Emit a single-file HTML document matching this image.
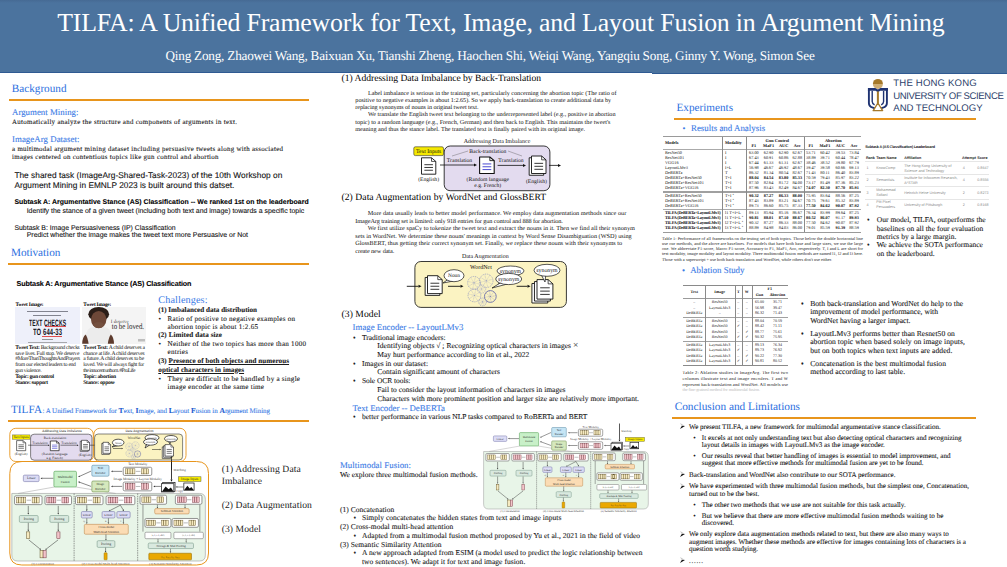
<!DOCTYPE html><html><head><meta charset="utf-8"><title>TILFA poster</title><style>
*{margin:0;padding:0;box-sizing:border-box}
html,body{width:1007px;height:567px;overflow:hidden;background:#fff}
body{position:relative;font-family:"Liberation Serif",serif;text-rendering:geometricPrecision}
.u{position:absolute;white-space:nowrap;line-height:1}
.t{position:absolute;white-space:nowrap;line-height:1;}
.k{-webkit-text-stroke:0.1px currentColor}
.r{position:absolute;}
u{text-decoration-thickness:0.6px;text-underline-offset:1px}
</style></head><body>
<div class="r" style="left:0.00px;top:0.00px;width:1007.00px;height:73.00px;background:linear-gradient(#466a94 0px,#4b739e 3px,#4b739e 71.5px,#2f5a92 72px,#2f5a92 73px);"></div>
<div class="r" style="left:652.00px;top:72.00px;width:355.00px;height:2.00px;background:linear-gradient(#4b739e 0px,#4b739e 1px,#2f5a92 1px);"></div>
<div class="t" style="left:57.20px;top:9.81px;font-size:25.80px;color:#fff;letter-spacing:-0.172px;">TILFA: A Unified Framework for Text, Image, and Layout Fusion in Argument Mining</div>
<div class="t" style="left:165.50px;top:49.01px;font-size:13.20px;color:#fff;letter-spacing:-0.210px;">Qing Zong, Zhaowei Wang, Baixuan Xu, Tianshi Zheng, Haochen Shi, Weiqi Wang, Yangqiu Song, Ginny Y. Wong, Simon See</div>
<div class="t" style="left:11.80px;top:84.31px;font-size:11.20px;color:#2c6fe0;letter-spacing:0.002px;">Background</div>
<div class="r" style="left:9.30px;top:99.00px;width:299.50px;height:2.00px;background:#e8951c;"></div>
<div class="t k" style="left:12.00px;top:108.42px;font-size:8.80px;color:#3b7be6;letter-spacing:0.029px;">Argument Mining:</div>
<div class="t k" style="left:12.00px;top:120.22px;font-size:6.90px;color:#1a1a1a;letter-spacing:0.304px;">Automatically analyze the structure and components of arguments in text.</div>
<div class="t k" style="left:12.00px;top:135.01px;font-size:8.80px;color:#3b7be6;letter-spacing:0.060px;">ImageArg Dataset:</div>
<div class="t k" style="left:12.00px;top:146.81px;font-size:6.90px;color:#1a1a1a;letter-spacing:0.303px;">a multimodal argument mining dataset including persuasive tweets along with associated</div>
<div class="t k" style="left:12.00px;top:154.91px;font-size:6.90px;color:#1a1a1a;letter-spacing:0.302px;">images centered on contentious topics like gun control and abortion</div>
<div class="t k" style="left:14.40px;top:171.00px;font-size:8.30px;font-family:'Liberation Sans',sans-serif;color:#111;letter-spacing:0.022px;">The shared task (ImageArg-Shared-Task-2023) of the 10th Workshop on</div>
<div class="t k" style="left:14.40px;top:181.22px;font-size:8.30px;font-family:'Liberation Sans',sans-serif;color:#111;letter-spacing:0.011px;">Argument Mining in EMNLP 2023 is built around this datset.</div>
<div class="t k" style="left:14.40px;top:200.20px;font-size:6.90px;font-family:'Liberation Sans',sans-serif;color:#000;font-weight:bold;letter-spacing:0.027px;">Subtask A: Argumentative Stance (AS) Classification -- We ranked 1st on the leaderboard</div>
<div class="t k" style="left:26.70px;top:208.70px;font-size:6.90px;font-family:'Liberation Sans',sans-serif;color:#111;letter-spacing:0.023px;">Identify the stance of a given tweet (including both text and image) towards a specific topic</div>
<div class="t k" style="left:14.40px;top:225.61px;font-size:6.90px;font-family:'Liberation Sans',sans-serif;color:#111;letter-spacing:0.015px;">Subtask B: Image Persuasiveness (IP) Classification</div>
<div class="t k" style="left:26.70px;top:233.20px;font-size:6.90px;font-family:'Liberation Sans',sans-serif;color:#111;letter-spacing:0.027px;">Predict whether the image makes the tweet text more Persuasive or Not</div>
<div class="t" style="left:11.00px;top:248.31px;font-size:11.20px;color:#2c6fe0;letter-spacing:-0.048px;">Motivation</div>
<div class="r" style="left:8.10px;top:263.00px;width:300.50px;height:2.00px;background:#e8951c;"></div>
<div class="t k" style="left:16.50px;top:279.51px;font-size:7.20px;font-family:'Liberation Sans',sans-serif;color:#000;font-weight:bold;letter-spacing:-0.108px;">Subtask A: Argumentative Stance (AS) Classification</div>
<div class="t" style="left:15.40px;top:302.60px;font-size:5.20px;color:#000;font-weight:bold;letter-spacing:-0.174px;">Tweet Image:</div>
<div class="t" style="left:83.30px;top:302.60px;font-size:5.20px;color:#000;font-weight:bold;letter-spacing:-0.192px;">Tweet Image:</div>
<div class="t" style="left:15.20px;top:345.60px;font-size:5.60px;color:#111;letter-spacing:-0.302px;"><b>Tweet Text:</b> Background checks</div>
<div class="t" style="left:15.20px;top:351.51px;font-size:5.60px;color:#111;letter-spacing:-0.273px;">save lives. Full stop. We deserve</div>
<div class="t" style="left:15.20px;top:357.41px;font-size:5.60px;color:#111;letter-spacing:-0.345px;">#MoreThanThoughtsAndPrayers</div>
<div class="t" style="left:15.20px;top:363.30px;font-size:5.60px;color:#111;letter-spacing:-0.291px;">from our elected leaders to end</div>
<div class="t" style="left:15.20px;top:369.21px;font-size:5.60px;color:#111;letter-spacing:-0.303px;">gun violence.</div>
<div class="t" style="left:15.20px;top:375.10px;font-size:5.60px;color:#111;letter-spacing:-0.289px;"><b>Topic: gun control</b></div>
<div class="t" style="left:15.20px;top:381.01px;font-size:5.60px;color:#111;letter-spacing:-0.347px;"><b>Stance: support</b></div>
<div class="t" style="left:83.30px;top:345.60px;font-size:5.60px;color:#111;letter-spacing:-0.277px;"><b>Tweet Text:</b> A child deserves a</div>
<div class="t" style="left:83.30px;top:351.51px;font-size:5.60px;color:#111;letter-spacing:-0.257px;">chance at life. A child deserves</div>
<div class="t" style="left:83.30px;top:357.41px;font-size:5.60px;color:#111;letter-spacing:-0.268px;">a future. A child deserves to be</div>
<div class="t" style="left:83.30px;top:363.30px;font-size:5.60px;color:#111;letter-spacing:-0.285px;">loved. We will always fight for</div>
<div class="t" style="left:83.30px;top:369.21px;font-size:5.60px;color:#111;letter-spacing:-0.547px;">the innocent unborn. #ProLife</div>
<div class="t" style="left:83.30px;top:375.10px;font-size:5.60px;color:#111;letter-spacing:-0.303px;"><b>Topic: abortion</b></div>
<div class="t" style="left:83.30px;top:381.01px;font-size:5.60px;color:#111;letter-spacing:-0.315px;"><b>Stance: oppose</b></div>
<div class="t" style="left:158.30px;top:295.81px;font-size:10.20px;color:#3b7be6;letter-spacing:0.110px;">Challenges:</div>
<div class="t k" style="left:158.30px;top:306.92px;font-size:7.10px;color:#1a1a1a;font-weight:bold;letter-spacing:-0.001px;">(1) Imbalanced data distribution</div>
<div class="t k" style="left:158.60px;top:315.51px;font-size:7.10px;color:#1a1a1a;">•</div>
<div class="t k" style="left:167.60px;top:315.51px;font-size:7.10px;color:#1a1a1a;letter-spacing:0.240px;">Ratio of positive to negative examples on</div>
<div class="t k" style="left:167.60px;top:323.92px;font-size:7.10px;color:#1a1a1a;letter-spacing:0.243px;">abortion topic is about 1:2.65</div>
<div class="t k" style="left:158.30px;top:332.20px;font-size:7.10px;color:#1a1a1a;font-weight:bold;letter-spacing:0.082px;">(2) Limited data size</div>
<div class="t k" style="left:158.60px;top:341.11px;font-size:7.10px;color:#1a1a1a;">•</div>
<div class="t k" style="left:167.60px;top:341.11px;font-size:7.10px;color:#1a1a1a;letter-spacing:0.241px;">Neither of the two topics has more than 1000</div>
<div class="t k" style="left:167.60px;top:349.42px;font-size:7.10px;color:#1a1a1a;letter-spacing:0.248px;">entries</div>
<div class="t k" style="left:158.30px;top:358.11px;font-size:7.10px;color:#1a1a1a;font-weight:bold;letter-spacing:0.062px;">(3) <u>Presence of both objects and numerous</u></div>
<div class="t k" style="left:158.30px;top:366.51px;font-size:7.10px;color:#1a1a1a;font-weight:bold;letter-spacing:0.044px;"><u>optical characters in images</u></div>
<div class="t k" style="left:158.60px;top:375.70px;font-size:7.10px;color:#1a1a1a;">•</div>
<div class="t k" style="left:167.60px;top:375.70px;font-size:7.10px;color:#1a1a1a;letter-spacing:0.242px;">They are difficult to be handled by a single</div>
<div class="t k" style="left:167.60px;top:383.51px;font-size:7.10px;color:#1a1a1a;letter-spacing:0.234px;">image encoder at the same time</div>
<div class="t" style="left:11.00px;top:404.91px;font-size:11.20px;color:#2c6fe0;letter-spacing:0.031px;">TILFA</div>
<div class="t k" style="left:42.50px;top:406.91px;font-size:7.00px;color:#3b7be6;letter-spacing:-0.028px;">: A Unified Framework for <b style="font-size:7.6px;color:#1d5bd0">T</b>ext, <b style="font-size:7.6px;color:#1d5bd0">I</b>mage, and <b style="font-size:7.6px;color:#1d5bd0">L</b>ayout <b style="font-size:7.6px;color:#1d5bd0">F</b>usion in <b style="font-size:7.6px;color:#1d5bd0">A</b>rgument Mining</div>
<div class="r" style="left:8.10px;top:420.00px;width:300.50px;height:2.00px;background:#e8951c;"></div>
<div class="t" style="left:221.70px;top:465.20px;font-size:9.60px;color:#1a1a1a;letter-spacing:0.102px;">(1) Addressing Data</div>
<div class="t" style="left:221.70px;top:476.81px;font-size:9.60px;color:#1a1a1a;letter-spacing:0.044px;">Imbalance</div>
<div class="t" style="left:221.70px;top:500.51px;font-size:9.60px;color:#1a1a1a;letter-spacing:0.087px;">(2) Data Augmentation</div>
<div class="t" style="left:221.70px;top:524.70px;font-size:9.60px;color:#1a1a1a;letter-spacing:0.084px;">(3) Model</div>
<div class="t" style="left:341.50px;top:74.20px;font-size:9.60px;color:#000;letter-spacing:-0.014px;">(1) Addressing Data Imbalance by Back-Translation</div>
<div class="t" style="left:368.00px;top:90.51px;font-size:6.20px;color:#111;letter-spacing:-0.006px;">Label imbalance is serious in the training set, particularly concerning the abortion topic (The ratio of</div>
<div class="t" style="left:355.30px;top:97.82px;font-size:6.20px;color:#111;letter-spacing:-0.014px;">positive to negative examples is about 1:2.65). So we apply back-translation to create additional data by</div>
<div class="t" style="left:355.30px;top:105.15px;font-size:6.20px;color:#111;letter-spacing:-0.078px;">replacing synonyms of nouns in original tweet text.</div>
<div class="t" style="left:368.00px;top:112.46px;font-size:6.20px;color:#111;letter-spacing:-0.016px;">We translate the English tweet text belonging to the underrepresented label (e.g., positive in abortion</div>
<div class="t" style="left:355.30px;top:119.79px;font-size:6.20px;color:#111;letter-spacing:-0.020px;">topic) to a random language (e.g., French, German) and then back to English. This maintains the tweet&#x27;s</div>
<div class="t" style="left:355.30px;top:127.10px;font-size:6.20px;color:#111;letter-spacing:-0.021px;">meaning and thus the stance label. The translated text is finally paired with its original image.</div>
<div class="t" style="left:341.50px;top:192.51px;font-size:9.60px;color:#000;letter-spacing:0.059px;">(2) Data Augmentation by WordNet and GlossBERT</div>
<div class="t" style="left:367.80px;top:211.11px;font-size:6.25px;color:#111;letter-spacing:0.003px;">More data usually leads to better model performance. We employ data augmentation methods since our</div>
<div class="t" style="left:355.30px;top:218.61px;font-size:6.25px;color:#111;letter-spacing:-0.104px;">ImageArg training set is limited: only 918 entries for gun control and 888 for abortion.</div>
<div class="t" style="left:367.80px;top:226.11px;font-size:6.25px;color:#111;letter-spacing:0.006px;">We first utilize spaCy to tokenize the tweet text and extract the nouns in it. Then we find all their synonym</div>
<div class="t" style="left:355.30px;top:233.61px;font-size:6.25px;color:#111;letter-spacing:-0.006px;">sets in WordNet. We determine these nouns&#x27; meanings in context by Word Sense Disambiguation (WSD) using</div>
<div class="t" style="left:355.30px;top:241.11px;font-size:6.25px;color:#111;letter-spacing:-0.002px;">GlossBERT, thus getting their correct synonym set. Finally, we replace these nouns with their synonyms to</div>
<div class="t" style="left:355.30px;top:248.61px;font-size:6.25px;color:#111;letter-spacing:-0.101px;">create new data.</div>
<div class="t" style="left:341.50px;top:309.61px;font-size:9.60px;color:#000;letter-spacing:0.070px;">(3) Model</div>
<div class="t k" style="left:352.60px;top:323.20px;font-size:8.80px;color:#3b7be6;letter-spacing:0.006px;">Image Encoder -- LayoutLMv3</div>
<div class="t k" style="left:353.00px;top:333.50px;font-size:7.50px;color:#1a1a1a;">•</div>
<div class="t k" style="left:362.00px;top:333.50px;font-size:7.50px;color:#1a1a1a;letter-spacing:-0.015px;">Traditional image encoders:</div>
<div class="t k" style="left:377.30px;top:342.11px;font-size:7.50px;color:#1a1a1a;letter-spacing:0.034px;">Identifying objects √ ; Recognizing optical characters in images <span style="font-size:9.5px;color:#555">×</span></div>
<div class="t k" style="left:377.30px;top:350.71px;font-size:7.50px;color:#1a1a1a;letter-spacing:0.008px;">May hurt performance according to lin et al., 2022</div>
<div class="t k" style="left:353.00px;top:359.61px;font-size:7.50px;color:#1a1a1a;">•</div>
<div class="t k" style="left:362.00px;top:359.61px;font-size:7.50px;color:#1a1a1a;letter-spacing:-0.001px;">Images in our dataset:</div>
<div class="t k" style="left:377.30px;top:368.30px;font-size:7.50px;color:#1a1a1a;letter-spacing:0.017px;">Contain significant amount of characters</div>
<div class="t k" style="left:353.00px;top:377.00px;font-size:7.50px;color:#1a1a1a;">•</div>
<div class="t k" style="left:362.00px;top:377.00px;font-size:7.50px;color:#1a1a1a;letter-spacing:-0.056px;">Sole OCR tools:</div>
<div class="t k" style="left:377.30px;top:385.80px;font-size:7.50px;color:#1a1a1a;letter-spacing:0.022px;">Fail to consider the layout information of characters in images</div>
<div class="t k" style="left:377.30px;top:394.50px;font-size:7.50px;color:#1a1a1a;letter-spacing:0.017px;">Characters with more prominent position and larger size are relatively more important.</div>
<div class="t k" style="left:352.60px;top:403.61px;font-size:8.80px;color:#3b7be6;letter-spacing:-0.021px;">Text Encoder -- DeBERTa</div>
<div class="t k" style="left:353.00px;top:413.41px;font-size:7.50px;color:#1a1a1a;">•</div>
<div class="t k" style="left:362.00px;top:413.41px;font-size:7.50px;color:#1a1a1a;letter-spacing:-0.005px;">better performance in various NLP tasks compared to RoBERTa and BERT</div>
<div class="t k" style="left:340.00px;top:460.92px;font-size:8.80px;color:#3b7be6;letter-spacing:0.050px;">Multimodal Fusion:</div>
<div class="t k" style="left:340.00px;top:470.61px;font-size:7.50px;color:#1a1a1a;letter-spacing:0.007px;">We explore three multimodal fusion methods.</div>
<div class="t k" style="left:340.00px;top:505.61px;font-size:7.50px;color:#1a1a1a;letter-spacing:0.016px;">(1) Concatenation</div>
<div class="t k" style="left:353.60px;top:514.41px;font-size:7.50px;color:#1a1a1a;">•</div>
<div class="t k" style="left:362.00px;top:514.41px;font-size:7.50px;color:#1a1a1a;letter-spacing:0.047px;">Simply concatenates the hidden states from text and image inputs</div>
<div class="t k" style="left:340.00px;top:523.30px;font-size:7.50px;color:#1a1a1a;letter-spacing:0.054px;">(2) Cross-modal multi-head attention</div>
<div class="t k" style="left:353.60px;top:531.91px;font-size:7.50px;color:#1a1a1a;">•</div>
<div class="t k" style="left:362.00px;top:531.91px;font-size:7.50px;color:#1a1a1a;letter-spacing:0.053px;">Adapted from a multimodal fusion method proposed by Yu et al., 2021 in the field of video</div>
<div class="t k" style="left:340.00px;top:540.50px;font-size:7.50px;color:#1a1a1a;letter-spacing:0.040px;">(3) Semantic Similarity Attention</div>
<div class="t k" style="left:353.60px;top:549.00px;font-size:7.50px;color:#1a1a1a;">•</div>
<div class="t k" style="left:362.00px;top:549.00px;font-size:7.50px;color:#1a1a1a;letter-spacing:0.045px;">A new approach adapted from ESIM (a model used to predict the logic relationship between</div>
<div class="t k" style="left:362.00px;top:557.61px;font-size:7.50px;color:#1a1a1a;letter-spacing:0.041px;">two sentences). We adapt it for text and image fusion.</div>
<div class="t" style="left:676.50px;top:103.01px;font-size:11.20px;color:#2c6fe0;letter-spacing:-0.005px;">Experiments</div>
<div class="r" style="left:674.10px;top:118.40px;width:301.70px;height:2.00px;background:#e8951c;"></div>
<div class="t k" style="left:682.40px;top:124.61px;font-size:8.30px;color:#3b7be6;">•</div>
<div class="t k" style="left:691.00px;top:123.61px;font-size:8.90px;color:#3b7be6;letter-spacing:0.007px;">Results and Analysis</div>
<div class="t k" style="left:681.90px;top:265.80px;font-size:8.60px;color:#3b7be6;">•</div>
<div class="t k" style="left:690.20px;top:266.00px;font-size:8.90px;color:#3b7be6;letter-spacing:0.024px;">Ablation Study</div>
<div class="t k" style="left:867.10px;top:215.91px;font-size:7.50px;color:#1a1a1a;">•</div>
<div class="t k" style="left:876.80px;top:215.91px;font-size:7.50px;color:#1a1a1a;letter-spacing:0.024px;">Our model, TILFA, outperforms the</div>
<div class="t k" style="left:876.80px;top:224.50px;font-size:7.50px;color:#1a1a1a;letter-spacing:0.047px;">baselines on all the four evaluation</div>
<div class="t k" style="left:876.80px;top:232.91px;font-size:7.50px;color:#1a1a1a;letter-spacing:0.051px;">metrics by a large margin.</div>
<div class="t k" style="left:867.10px;top:241.21px;font-size:7.50px;color:#1a1a1a;">•</div>
<div class="t k" style="left:876.80px;top:241.21px;font-size:7.50px;color:#1a1a1a;letter-spacing:0.009px;">We achieve the SOTA performance</div>
<div class="t k" style="left:876.80px;top:249.61px;font-size:7.50px;color:#1a1a1a;letter-spacing:0.006px;">on the leaderboard.</div>
<div class="t k" style="left:801.00px;top:299.60px;font-size:7.60px;color:#1a1a1a;">•</div>
<div class="t k" style="left:810.20px;top:299.60px;font-size:7.60px;color:#1a1a1a;letter-spacing:0.035px;">Both back-translation and WordNet do help to the</div>
<div class="t k" style="left:810.20px;top:308.01px;font-size:7.60px;color:#1a1a1a;letter-spacing:0.017px;">improvement of model performance, with</div>
<div class="t k" style="left:810.20px;top:316.71px;font-size:7.60px;color:#1a1a1a;letter-spacing:0.030px;">WordNet having a larger impact.</div>
<div class="t k" style="left:801.00px;top:329.51px;font-size:7.60px;color:#1a1a1a;">•</div>
<div class="t k" style="left:810.20px;top:329.51px;font-size:7.60px;color:#1a1a1a;letter-spacing:0.023px;">LayoutLMv3 performs better than Resnet50 on</div>
<div class="t k" style="left:810.20px;top:337.80px;font-size:7.60px;color:#1a1a1a;letter-spacing:0.049px;">abortion topic when based solely on image inputs,</div>
<div class="t k" style="left:810.20px;top:346.60px;font-size:7.60px;color:#1a1a1a;letter-spacing:0.051px;">but on both topics when text inputs are added.</div>
<div class="t k" style="left:801.00px;top:359.51px;font-size:7.60px;color:#1a1a1a;">•</div>
<div class="t k" style="left:810.20px;top:359.51px;font-size:7.60px;color:#1a1a1a;letter-spacing:0.045px;">Concatenation is the best multimodal fusion</div>
<div class="t k" style="left:810.20px;top:368.01px;font-size:7.60px;color:#1a1a1a;letter-spacing:0.050px;">method according to last table.</div>
<div class="t" style="left:674.70px;top:402.20px;font-size:11.30px;color:#2c6fe0;letter-spacing:-0.008px;">Conclusion and Limitations</div>
<div class="r" style="left:672.00px;top:417.00px;width:303.80px;height:2.00px;background:#e8951c;"></div>
<svg width="5" height="6" viewBox="0 0 10 12" style="position:absolute;left:680.1px;top:423.2px"><path d="M0 0 L10 6 L3.5 6 Z" fill="#c4c4c4"/><path d="M3.5 6 L10 6 L0 12 Z" fill="#111"/></svg>
<div class="t k" style="left:689.10px;top:423.50px;font-size:7.05px;color:#1a1a1a;letter-spacing:0.003px;">We present TILFA, a new framework for multimodal argumentative stance classification.</div>
<div class="t k" style="left:693.20px;top:434.81px;font-size:7.05px;color:#1a1a1a;">•</div>
<div class="t k" style="left:701.80px;top:434.81px;font-size:7.05px;color:#1a1a1a;letter-spacing:0.005px;">It excels at not only understanding text but also detecting optical characters and recognizing</div>
<div class="t k" style="left:701.80px;top:441.81px;font-size:7.05px;color:#1a1a1a;letter-spacing:0.002px;">layout details in images with LayoutLMv3 as the image encoder.</div>
<div class="t k" style="left:693.20px;top:453.40px;font-size:7.05px;color:#1a1a1a;">•</div>
<div class="t k" style="left:701.80px;top:453.40px;font-size:7.05px;color:#1a1a1a;letter-spacing:0.007px;">Our results reveal that better handling of images is essential to model improvement, and</div>
<div class="t k" style="left:701.80px;top:460.40px;font-size:7.05px;color:#1a1a1a;letter-spacing:0.003px;">suggest that more effective methods for multimodal fusion are yet to be found.</div>
<svg width="5" height="6" viewBox="0 0 10 12" style="position:absolute;left:680.1px;top:471.4px"><path d="M0 0 L10 6 L3.5 6 Z" fill="#c4c4c4"/><path d="M3.5 6 L10 6 L0 12 Z" fill="#111"/></svg>
<div class="t k" style="left:689.10px;top:471.70px;font-size:7.05px;color:#1a1a1a;letter-spacing:0.005px;">Back-translation and WordNet also contribute to our SOTA performance.</div>
<svg width="5" height="6" viewBox="0 0 10 12" style="position:absolute;left:680.1px;top:483.1px"><path d="M0 0 L10 6 L3.5 6 Z" fill="#c4c4c4"/><path d="M3.5 6 L10 6 L0 12 Z" fill="#111"/></svg>
<div class="t k" style="left:689.10px;top:483.40px;font-size:7.05px;color:#1a1a1a;letter-spacing:0.000px;">We have experimented with three multimodal fusion methods, but the simplest one, Concatenation,</div>
<div class="t k" style="left:689.10px;top:490.50px;font-size:7.05px;color:#1a1a1a;letter-spacing:0.017px;">turned out to be the best.</div>
<div class="t k" style="left:693.20px;top:501.81px;font-size:7.05px;color:#1a1a1a;">•</div>
<div class="t k" style="left:701.80px;top:501.81px;font-size:7.05px;color:#1a1a1a;letter-spacing:0.000px;">The other two methods that we use are not suitable for this task actually.</div>
<div class="t k" style="left:693.20px;top:513.11px;font-size:7.05px;color:#1a1a1a;">•</div>
<div class="t k" style="left:701.80px;top:513.11px;font-size:7.05px;color:#1a1a1a;letter-spacing:0.004px;">But we believe that there are more effective multimodal fusion methods waiting to be</div>
<div class="t k" style="left:701.80px;top:520.00px;font-size:7.05px;color:#1a1a1a;letter-spacing:-0.009px;">discovered.</div>
<svg width="5" height="6" viewBox="0 0 10 12" style="position:absolute;left:680.1px;top:531.0px"><path d="M0 0 L10 6 L3.5 6 Z" fill="#c4c4c4"/><path d="M3.5 6 L10 6 L0 12 Z" fill="#111"/></svg>
<div class="t k" style="left:689.10px;top:531.31px;font-size:7.05px;color:#1a1a1a;letter-spacing:0.008px;">We only explore data augmentation methods related to text, but there are also many ways to</div>
<div class="t k" style="left:689.10px;top:538.70px;font-size:7.05px;color:#1a1a1a;letter-spacing:0.003px;">augment images. Whether these methods are effective for images containing lots of characters is a</div>
<div class="t k" style="left:689.10px;top:545.61px;font-size:7.05px;color:#1a1a1a;letter-spacing:-0.042px;">question worth studying.</div>
<svg width="5" height="6" viewBox="0 0 10 12" style="position:absolute;left:680.1px;top:557.2px"><path d="M0 0 L10 6 L3.5 6 Z" fill="#c4c4c4"/><path d="M3.5 6 L10 6 L0 12 Z" fill="#111"/></svg>
<div class="t k" style="left:689.10px;top:557.50px;font-size:7.05px;color:#1a1a1a;letter-spacing:0.667px;">......</div>
<svg style="position:absolute;left:0;top:0" width="1007" height="567" viewBox="0 0 1007 567"><text x="497.00" y="143.10" font-size="6.00" text-anchor="middle" fill="#111" style="font-family:'Liberation Serif',serif" >Addressing Data Imbalance</text><rect x="444.2" y="146" width="105.7" height="44.7" rx="6" fill="#e3dbef" stroke="#222" stroke-width="0.9"/><rect x="413.8" y="146.8" width="29.7" height="8.8" rx="1.5" fill="#f5e800" stroke="#333" stroke-width="0.6"/><text x="428.60" y="153.40" font-size="5.60" text-anchor="middle" fill="#111" style="font-family:'Liberation Serif',serif" >Text Inputs</text><path d="M421.50 157.80 h10.01 l4.29 3.61 v12.79 h-14.30 z" fill="#fff" stroke="#111" stroke-width="0.90" stroke-linejoin="round"/><path d="M431.51 157.80 v3.61 h4.29" fill="none" stroke="#111" stroke-width="0.72"/><line x1="424.36" y1="164.69" x2="432.94" y2="164.69" stroke="#222" stroke-width="0.90"/><line x1="424.36" y1="167.48" x2="432.94" y2="167.48" stroke="#222" stroke-width="0.90"/><line x1="424.36" y1="170.26" x2="432.94" y2="170.26" stroke="#222" stroke-width="0.90"/><text x="428.60" y="180.60" font-size="5.60" text-anchor="middle" fill="#111" style="font-family:'Liberation Serif',serif" >(English)</text><line x1="440.00" y1="165.00" x2="474.00" y2="165.00" stroke="#111" stroke-width="0.80"/><path d="M477.00 165.00 L474.00 166.50 L474.00 163.50 z" fill="#111"/><text x="459.50" y="162.00" font-size="5.60" text-anchor="middle" fill="#111" style="font-family:'Liberation Serif',serif" >Translation</text><text x="487.80" y="152.70" font-size="5.60" text-anchor="middle" fill="#111" style="font-family:'Liberation Serif',serif" >Back-translation</text><line x1="452" y1="156" x2="468" y2="151" stroke="#555" stroke-width="0.4"/><line x1="508" y1="151" x2="522" y2="156" stroke="#555" stroke-width="0.4"/><path d="M479.60 157.00 h10.22 l4.38 3.63 v12.87 h-14.60 z" fill="#fff" stroke="#111" stroke-width="1.10" stroke-linejoin="round"/><path d="M489.82 157.00 v3.63 h4.38" fill="none" stroke="#111" stroke-width="0.88"/><line x1="482.52" y1="163.93" x2="491.28" y2="163.93" stroke="#5b5bd6" stroke-width="1.10"/><line x1="482.52" y1="166.74" x2="491.28" y2="166.74" stroke="#5b5bd6" stroke-width="1.10"/><line x1="482.52" y1="169.54" x2="491.28" y2="169.54" stroke="#5b5bd6" stroke-width="1.10"/><text x="487.80" y="181.00" font-size="5.60" text-anchor="middle" fill="#111" style="font-family:'Liberation Serif',serif" >(Random language</text><text x="487.80" y="187.40" font-size="5.60" text-anchor="middle" fill="#111" style="font-family:'Liberation Serif',serif" >e.g. French)</text><line x1="497.60" y1="165.40" x2="523.00" y2="165.40" stroke="#111" stroke-width="0.80"/><path d="M526.00 165.40 L523.00 166.90 L523.00 163.90 z" fill="#111"/><text x="511.00" y="162.00" font-size="5.60" text-anchor="middle" fill="#111" style="font-family:'Liberation Serif',serif" >Translation</text><path d="M529.18 157.75 h10.15 l4.35 3.85 v13.65 h-14.50 z" fill="#fff" stroke="#111" stroke-width="0.90"/><path d="M531.50 156.00 h10.15 l4.35 3.85 v13.65 h-14.50 z" fill="#fff" stroke="#111" stroke-width="0.90" stroke-linejoin="round"/><path d="M541.65 156.00 v3.85 h4.35" fill="none" stroke="#111" stroke-width="0.72"/><line x1="534.40" y1="163.35" x2="543.10" y2="163.35" stroke="#222" stroke-width="0.90"/><line x1="534.40" y1="166.32" x2="543.10" y2="166.32" stroke="#222" stroke-width="0.90"/><line x1="534.40" y1="169.30" x2="543.10" y2="169.30" stroke="#222" stroke-width="0.90"/><text x="536.40" y="182.60" font-size="5.60" text-anchor="middle" fill="#111" style="font-family:'Liberation Serif',serif" >(English)</text><line x1="549.00" y1="165.40" x2="558.00" y2="165.40" stroke="#111" stroke-width="0.80"/><path d="M561.00 165.40 L558.00 166.90 L558.00 163.90 z" fill="#111"/><text x="485.30" y="258.40" font-size="6.00" text-anchor="middle" fill="#111" style="font-family:'Liberation Serif',serif" >Data Augmentation</text><rect x="414.9" y="261.5" width="151.5" height="45.9" rx="6" fill="#fbf3c2" stroke="#222" stroke-width="0.9"/><line x1="406.80" y1="286.30" x2="418.50" y2="286.30" stroke="#111" stroke-width="0.90"/><path d="M421.50 286.30 L418.50 287.80 L418.50 284.80 z" fill="#111"/><path d="M425.15 277.49 h10.29 l4.41 3.94 v13.96 h-14.70 z" fill="#fff" stroke="#111" stroke-width="0.90"/><path d="M427.50 275.70 h10.29 l4.41 3.94 v13.96 h-14.70 z" fill="#fff" stroke="#111" stroke-width="0.90" stroke-linejoin="round"/><path d="M437.79 275.70 v3.94 h4.41" fill="none" stroke="#111" stroke-width="0.72"/><line x1="430.44" y1="283.22" x2="439.26" y2="283.22" stroke="#222" stroke-width="0.90"/><line x1="430.44" y1="286.26" x2="439.26" y2="286.26" stroke="#222" stroke-width="0.90"/><line x1="430.44" y1="289.30" x2="439.26" y2="289.30" stroke="#222" stroke-width="0.90"/><path d="M449.00 278.70 L443.00 283.00 L453.00 281.10" fill="#fff" stroke="#111" stroke-width="0.7"/><ellipse cx="454.00" cy="275.70" rx="10.00" ry="6.00" fill="#fff" stroke="#111" stroke-width="0.7"/><text x="454.00" y="277.48" font-size="5.40" text-anchor="middle" fill="#111" style="font-family:'Liberation Serif',serif" >Noun</text><line x1="448.00" y1="286.30" x2="460.50" y2="286.30" stroke="#111" stroke-width="0.90"/><path d="M463.50 286.30 L460.50 287.80 L460.50 284.80 z" fill="#111"/><text x="481.00" y="269.30" font-size="6.00" text-anchor="middle" fill="#111" style="font-family:'Liberation Serif',serif" >WordNet</text><circle cx="474.04" cy="282.88" r="6.43" fill="none" stroke="#8088c0" stroke-width="0.60" stroke-dasharray="1.10 0.80"/><line x1="474.04" y1="282.88" x2="480.31" y2="284.28" stroke="#8088c0" stroke-width="0.35" stroke-dasharray="0.80 0.60"/><line x1="474.04" y1="282.88" x2="477.48" y2="288.31" stroke="#8088c0" stroke-width="0.35" stroke-dasharray="0.80 0.60"/><line x1="474.04" y1="282.88" x2="472.64" y2="289.15" stroke="#8088c0" stroke-width="0.35" stroke-dasharray="0.80 0.60"/><line x1="474.04" y1="282.88" x2="468.61" y2="286.32" stroke="#8088c0" stroke-width="0.35" stroke-dasharray="0.80 0.60"/><line x1="474.04" y1="282.88" x2="467.77" y2="281.48" stroke="#8088c0" stroke-width="0.35" stroke-dasharray="0.80 0.60"/><line x1="474.04" y1="282.88" x2="470.60" y2="277.45" stroke="#8088c0" stroke-width="0.35" stroke-dasharray="0.80 0.60"/><line x1="474.04" y1="282.88" x2="475.44" y2="276.61" stroke="#8088c0" stroke-width="0.35" stroke-dasharray="0.80 0.60"/><line x1="474.04" y1="282.88" x2="479.47" y2="279.44" stroke="#8088c0" stroke-width="0.35" stroke-dasharray="0.80 0.60"/><circle cx="486.25" cy="280.84" r="6.78" fill="none" stroke="#8088c0" stroke-width="0.60" stroke-dasharray="1.10 0.80"/><line x1="486.25" y1="280.84" x2="492.03" y2="284.39" stroke="#8088c0" stroke-width="0.35" stroke-dasharray="0.80 0.60"/><line x1="486.25" y1="280.84" x2="487.83" y2="287.44" stroke="#8088c0" stroke-width="0.35" stroke-dasharray="0.80 0.60"/><line x1="486.25" y1="280.84" x2="482.70" y2="286.62" stroke="#8088c0" stroke-width="0.35" stroke-dasharray="0.80 0.60"/><line x1="486.25" y1="280.84" x2="479.65" y2="282.42" stroke="#8088c0" stroke-width="0.35" stroke-dasharray="0.80 0.60"/><line x1="486.25" y1="280.84" x2="480.47" y2="277.29" stroke="#8088c0" stroke-width="0.35" stroke-dasharray="0.80 0.60"/><line x1="486.25" y1="280.84" x2="484.67" y2="274.24" stroke="#8088c0" stroke-width="0.35" stroke-dasharray="0.80 0.60"/><line x1="486.25" y1="280.84" x2="489.80" y2="275.06" stroke="#8088c0" stroke-width="0.35" stroke-dasharray="0.80 0.60"/><line x1="486.25" y1="280.84" x2="492.85" y2="279.26" stroke="#8088c0" stroke-width="0.35" stroke-dasharray="0.80 0.60"/><circle cx="474.41" cy="295.46" r="6.43" fill="none" stroke="#8088c0" stroke-width="0.60" stroke-dasharray="1.10 0.80"/><line x1="474.41" y1="295.46" x2="480.67" y2="296.92" stroke="#8088c0" stroke-width="0.35" stroke-dasharray="0.80 0.60"/><line x1="474.41" y1="295.46" x2="477.80" y2="300.92" stroke="#8088c0" stroke-width="0.35" stroke-dasharray="0.80 0.60"/><line x1="474.41" y1="295.46" x2="472.95" y2="301.72" stroke="#8088c0" stroke-width="0.35" stroke-dasharray="0.80 0.60"/><line x1="474.41" y1="295.46" x2="468.95" y2="298.85" stroke="#8088c0" stroke-width="0.35" stroke-dasharray="0.80 0.60"/><line x1="474.41" y1="295.46" x2="468.15" y2="294.00" stroke="#8088c0" stroke-width="0.35" stroke-dasharray="0.80 0.60"/><line x1="474.41" y1="295.46" x2="471.02" y2="290.00" stroke="#8088c0" stroke-width="0.35" stroke-dasharray="0.80 0.60"/><line x1="474.41" y1="295.46" x2="475.87" y2="289.20" stroke="#8088c0" stroke-width="0.35" stroke-dasharray="0.80 0.60"/><line x1="474.41" y1="295.46" x2="479.87" y2="292.07" stroke="#8088c0" stroke-width="0.35" stroke-dasharray="0.80 0.60"/><circle cx="490.32" cy="296.48" r="5.89" fill="none" stroke="#5a60a8" stroke-width="0.80" /><line x1="490.32" y1="296.48" x2="494.97" y2="300.09" stroke="#5a60a8" stroke-width="0.35" stroke-dasharray="0.80 0.60"/><line x1="490.32" y1="296.48" x2="491.06" y2="302.32" stroke="#5a60a8" stroke-width="0.35" stroke-dasharray="0.80 0.60"/><line x1="490.32" y1="296.48" x2="486.71" y2="301.13" stroke="#5a60a8" stroke-width="0.35" stroke-dasharray="0.80 0.60"/><line x1="490.32" y1="296.48" x2="484.48" y2="297.22" stroke="#5a60a8" stroke-width="0.35" stroke-dasharray="0.80 0.60"/><line x1="490.32" y1="296.48" x2="485.67" y2="292.87" stroke="#5a60a8" stroke-width="0.35" stroke-dasharray="0.80 0.60"/><line x1="490.32" y1="296.48" x2="489.58" y2="290.64" stroke="#5a60a8" stroke-width="0.35" stroke-dasharray="0.80 0.60"/><line x1="490.32" y1="296.48" x2="493.93" y2="291.83" stroke="#5a60a8" stroke-width="0.35" stroke-dasharray="0.80 0.60"/><line x1="490.32" y1="296.48" x2="496.16" y2="295.74" stroke="#5a60a8" stroke-width="0.35" stroke-dasharray="0.80 0.60"/><circle cx="482.55" cy="301.92" r="3.93" fill="none" stroke="#8088c0" stroke-width="0.60" stroke-dasharray="1.10 0.80"/><line x1="482.55" y1="301.92" x2="486.09" y2="303.63" stroke="#8088c0" stroke-width="0.35" stroke-dasharray="0.80 0.60"/><line x1="482.55" y1="301.92" x2="483.84" y2="305.63" stroke="#8088c0" stroke-width="0.35" stroke-dasharray="0.80 0.60"/><line x1="482.55" y1="301.92" x2="480.84" y2="305.46" stroke="#8088c0" stroke-width="0.35" stroke-dasharray="0.80 0.60"/><line x1="482.55" y1="301.92" x2="478.84" y2="303.21" stroke="#8088c0" stroke-width="0.35" stroke-dasharray="0.80 0.60"/><line x1="482.55" y1="301.92" x2="479.01" y2="300.21" stroke="#8088c0" stroke-width="0.35" stroke-dasharray="0.80 0.60"/><line x1="482.55" y1="301.92" x2="481.26" y2="298.21" stroke="#8088c0" stroke-width="0.35" stroke-dasharray="0.80 0.60"/><line x1="482.55" y1="301.92" x2="484.26" y2="298.38" stroke="#8088c0" stroke-width="0.35" stroke-dasharray="0.80 0.60"/><line x1="482.55" y1="301.92" x2="486.26" y2="300.63" stroke="#8088c0" stroke-width="0.35" stroke-dasharray="0.80 0.60"/><circle cx="481.44" cy="289.00" r="4.28" fill="none" stroke="#9aa0cc" stroke-width="0.60" stroke-dasharray="1.10 0.80"/><line x1="481.44" y1="289.00" x2="485.35" y2="290.75" stroke="#9aa0cc" stroke-width="0.35" stroke-dasharray="0.80 0.60"/><line x1="481.44" y1="289.00" x2="482.97" y2="293.00" stroke="#9aa0cc" stroke-width="0.35" stroke-dasharray="0.80 0.60"/><line x1="481.44" y1="289.00" x2="479.69" y2="292.91" stroke="#9aa0cc" stroke-width="0.35" stroke-dasharray="0.80 0.60"/><line x1="481.44" y1="289.00" x2="477.44" y2="290.53" stroke="#9aa0cc" stroke-width="0.35" stroke-dasharray="0.80 0.60"/><line x1="481.44" y1="289.00" x2="477.53" y2="287.25" stroke="#9aa0cc" stroke-width="0.35" stroke-dasharray="0.80 0.60"/><line x1="481.44" y1="289.00" x2="479.91" y2="285.00" stroke="#9aa0cc" stroke-width="0.35" stroke-dasharray="0.80 0.60"/><line x1="481.44" y1="289.00" x2="483.19" y2="285.09" stroke="#9aa0cc" stroke-width="0.35" stroke-dasharray="0.80 0.60"/><line x1="481.44" y1="289.00" x2="485.44" y2="287.47" stroke="#9aa0cc" stroke-width="0.35" stroke-dasharray="0.80 0.60"/><path d="M503.75 273.35 L498.00 285.00 L509.15 275.31" fill="#fff" stroke="#111" stroke-width="0.7"/><ellipse cx="510.50" cy="270.90" rx="13.50" ry="4.90" fill="#fff" stroke="#111" stroke-width="0.7"/><text x="510.50" y="272.81" font-size="5.80" text-anchor="middle" fill="#111" style="font-family:'Liberation Serif',serif" >synonym</text><path d="M502.20 281.80 L492.00 288.00 L507.40 284.04" fill="#fff" stroke="#111" stroke-width="0.7"/><ellipse cx="508.70" cy="279.00" rx="13.00" ry="5.60" fill="#fff" stroke="#111" stroke-width="0.7"/><text x="508.70" y="280.91" font-size="5.80" text-anchor="middle" fill="#111" style="font-family:'Liberation Serif',serif" >synonym</text><line x1="516.60" y1="286.30" x2="527.50" y2="286.30" stroke="#111" stroke-width="0.90"/><path d="M530.50 286.30 L527.50 287.80 L527.50 284.80 z" fill="#111"/><path d="M531.91 283.50 h11.13 l4.77 4.29 v15.21 h-15.90 z" fill="#fff" stroke="#111" stroke-width="0.90"/><path d="M534.46 281.55 h11.13 l4.77 4.29 v15.21 h-15.90 z" fill="#fff" stroke="#111" stroke-width="0.90"/><path d="M537.00 279.60 h11.13 l4.77 4.29 v15.21 h-15.90 z" fill="#fff" stroke="#111" stroke-width="0.90" stroke-linejoin="round"/><path d="M548.13 279.60 v4.29 h4.77" fill="none" stroke="#111" stroke-width="0.72"/><line x1="540.18" y1="287.79" x2="549.72" y2="287.79" stroke="#222" stroke-width="0.90"/><line x1="540.18" y1="291.11" x2="549.72" y2="291.11" stroke="#222" stroke-width="0.90"/><line x1="540.18" y1="294.42" x2="549.72" y2="294.42" stroke="#222" stroke-width="0.90"/><path d="M540.50 273.30 L545.00 282.00 L545.70 275.70" fill="#fff" stroke="#111" stroke-width="0.7"/><ellipse cx="547.00" cy="270.30" rx="13.00" ry="6.00" fill="#fff" stroke="#111" stroke-width="0.7"/><text x="547.00" y="272.21" font-size="5.80" text-anchor="middle" fill="#111" style="font-family:'Liberation Serif',serif" >synonym</text><g id="mdl"><path d="M483.6 451.5 H643.3 Q648.3 451.5 648.3 456.5 V504 Q648.3 509 643.3 509 H488.6 Q483.6 509 483.6 504 Z" fill="#e8f5e8" stroke="#9a9a9a" stroke-width="0.5"/><line x1="536.6" y1="451.5" x2="536.6" y2="509" stroke="#555" stroke-width="0.5" stroke-dasharray="1.3 0.7"/><line x1="590.7" y1="451.5" x2="590.7" y2="509" stroke="#555" stroke-width="0.5" stroke-dasharray="1.3 0.7"/><path d="M489 451.5 L520 446 M538 446 L572 451.5" stroke="#999" stroke-width="0.4" fill="none"/><rect x="493.40" y="435.90" width="13.40" height="5.50" rx="1.00" fill="#dcdcf5" stroke="#7777aa" stroke-width="0.5"/><text x="500.10" y="439.63" font-size="2.80" text-anchor="middle" fill="#1a1a1a" style="font-family:'Liberation Serif',serif" >Linear</text><line x1="519.00" y1="438.60" x2="509.50" y2="438.60" stroke="#333" stroke-width="0.50"/><path d="M508.00 438.60 L509.50 437.85 L509.50 439.35 z" fill="#333"/><rect x="519.40" y="432.60" width="19.20" height="13.40" rx="1.00" fill="#c8f0c8" stroke="#4a9a4a" stroke-width="0.5"/><text x="529.00" y="438.22" font-size="2.70" text-anchor="middle" fill="#1a1a1a" style="font-family:'Liberation Serif',serif" >Multimodal</text><text x="529.00" y="442.27" font-size="2.70" text-anchor="middle" fill="#1a1a1a" style="font-family:'Liberation Serif',serif" >Fusion</text><rect x="551.70" y="427.50" width="14.60" height="9.30" rx="1.00" fill="#c5e5f5" stroke="#5a8aa5" stroke-width="0.5"/><text x="559.00" y="431.11" font-size="2.60" text-anchor="middle" fill="#1a1a1a" style="font-family:'Liberation Serif',serif" >Text</text><text x="559.00" y="435.01" font-size="2.60" text-anchor="middle" fill="#1a1a1a" style="font-family:'Liberation Serif',serif" >Encoder</text><rect x="551.70" y="440.90" width="14.60" height="9.30" rx="1.00" fill="#d5e8bd" stroke="#6a8a4a" stroke-width="0.5"/><text x="559.00" y="444.51" font-size="2.60" text-anchor="middle" fill="#1a1a1a" style="font-family:'Liberation Serif',serif" >Image</text><text x="559.00" y="448.41" font-size="2.60" text-anchor="middle" fill="#1a1a1a" style="font-family:'Liberation Serif',serif" >Encoder</text><line x1="551.00" y1="432.50" x2="541.37" y2="436.88" stroke="#333" stroke-width="0.50"/><path d="M540.00 437.50 L541.06 436.20 L541.68 437.56 z" fill="#333"/><line x1="551.00" y1="445.50" x2="541.41" y2="442.01" stroke="#333" stroke-width="0.50"/><path d="M540.00 441.50 L541.67 441.31 L541.15 442.72 z" fill="#333"/><text x="590.80" y="427.70" font-size="2.90" text-anchor="middle" fill="#333" style="font-family:'Liberation Serif',serif" >Text Modality</text><rect x="578.40" y="429.20" width="24.30" height="7.00" rx="1.2" fill="#fff" stroke="#6a6a6a" stroke-width="0.6"/><rect x="580.10" y="430.53" width="2.07" height="4.34" fill="#f6eabf" stroke="#5a4a20" stroke-width="0.35"/><rect x="582.17" y="430.53" width="2.07" height="4.34" fill="#f6eabf" stroke="#5a4a20" stroke-width="0.35"/><rect x="584.23" y="430.53" width="2.07" height="4.34" fill="#f6eabf" stroke="#5a4a20" stroke-width="0.35"/><rect x="586.30" y="430.53" width="2.07" height="4.34" fill="#f6eabf" stroke="#5a4a20" stroke-width="0.35"/><line x1="589.09" y1="432.70" x2="592.98" y2="432.70" stroke="#666" stroke-width="0.4"/><rect x="593.95" y="430.53" width="2.07" height="4.34" fill="#f6eabf" stroke="#5a4a20" stroke-width="0.35"/><rect x="596.02" y="430.53" width="2.07" height="4.34" fill="#f6eabf" stroke="#5a4a20" stroke-width="0.35"/><rect x="598.08" y="430.53" width="2.07" height="4.34" fill="#f6eabf" stroke="#5a4a20" stroke-width="0.35"/><text x="590.80" y="440.30" font-size="2.90" text-anchor="middle" fill="#333" style="font-family:'Liberation Serif',serif" >Image Modality + Layout Modality</text><rect x="578.40" y="441.80" width="24.30" height="7.50" rx="1.2" fill="#fff" stroke="#6a6a6a" stroke-width="0.6"/><rect x="580.10" y="443.23" width="2.07" height="4.65" fill="#f3c4ca" stroke="#6a3038" stroke-width="0.35"/><rect x="582.17" y="443.23" width="2.07" height="4.65" fill="#f3c4ca" stroke="#6a3038" stroke-width="0.35"/><rect x="584.23" y="443.23" width="2.07" height="4.65" fill="#f3c4ca" stroke="#6a3038" stroke-width="0.35"/><rect x="586.30" y="443.23" width="2.07" height="4.65" fill="#f3c4ca" stroke="#6a3038" stroke-width="0.35"/><line x1="589.09" y1="445.55" x2="592.98" y2="445.55" stroke="#666" stroke-width="0.4"/><rect x="593.95" y="443.23" width="2.07" height="4.65" fill="#f3c4ca" stroke="#6a3038" stroke-width="0.35"/><rect x="596.02" y="443.23" width="2.07" height="4.65" fill="#f3c4ca" stroke="#6a3038" stroke-width="0.35"/><rect x="598.08" y="443.23" width="2.07" height="4.65" fill="#f3c4ca" stroke="#6a3038" stroke-width="0.35"/><line x1="577.50" y1="432.70" x2="569.50" y2="432.70" stroke="#333" stroke-width="0.50"/><path d="M568.00 432.70 L569.50 431.95 L569.50 433.45 z" fill="#333"/><line x1="577.50" y1="445.50" x2="569.50" y2="445.50" stroke="#333" stroke-width="0.50"/><path d="M568.00 445.50 L569.50 444.75 L569.50 446.25 z" fill="#333"/><rect x="612" y="442.2" width="10.5" height="7.6" fill="#fff" stroke="#111" stroke-width="0.6"/><rect x="611" y="443.2" width="10.5" height="7" fill="#fff" stroke="#111" stroke-width="0.6"/><path d="M611.3 450 L614.5 445.5 L617 448 L619 446.5 L621.3 450 Z" fill="#111"/><line x1="610.50" y1="445.50" x2="605.50" y2="445.50" stroke="#333" stroke-width="0.50"/><path d="M604.00 445.50 L605.50 444.75 L605.50 446.25 z" fill="#333"/><rect x="630" y="442.6" width="8.7" height="6.2" fill="#fff" stroke="#111" stroke-width="0.6"/><path d="M630.3 448.6 L633 445 L635 447.3 L636.3 446 L638.4 448.6 Z" fill="#111"/><line x1="629.50" y1="446.00" x2="624.50" y2="446.00" stroke="#333" stroke-width="0.50"/><path d="M623.00 446.00 L624.50 445.25 L624.50 446.75 z" fill="#333"/><text x="626.50" y="450.40" font-size="2.60" text-anchor="middle" fill="#333" style="font-family:'Liberation Serif',serif" >Copy</text><rect x="625.3" y="437.3" width="19.3" height="4.1" fill="#f5e800" stroke="#555" stroke-width="0.4"/><text x="635.00" y="440.30" font-size="2.80" text-anchor="middle" fill="#222" style="font-family:'Liberation Serif',serif" >Image Inputs</text><line x1="619.50" y1="423.50" x2="619.50" y2="439.70" stroke="#111" stroke-width="0.70"/><path d="M619.50 441.50 L618.60 439.70 L620.40 439.70 z" fill="#111"/><text x="621.30" y="432.00" font-size="2.70" text-anchor="start" fill="#333" style="font-family:'Liberation Serif',serif" >Matching</text><rect x="485.90" y="453.50" width="23.40" height="7.50" rx="1.2" fill="#fff" stroke="#6a6a6a" stroke-width="0.6"/><rect x="487.54" y="454.93" width="1.99" height="4.65" fill="#f6eabf" stroke="#5a4a20" stroke-width="0.35"/><rect x="489.53" y="454.93" width="1.99" height="4.65" fill="#f6eabf" stroke="#5a4a20" stroke-width="0.35"/><rect x="491.52" y="454.93" width="1.99" height="4.65" fill="#f6eabf" stroke="#5a4a20" stroke-width="0.35"/><rect x="493.50" y="454.93" width="1.99" height="4.65" fill="#f6eabf" stroke="#5a4a20" stroke-width="0.35"/><line x1="496.20" y1="457.25" x2="499.94" y2="457.25" stroke="#666" stroke-width="0.4"/><rect x="500.88" y="454.93" width="1.99" height="4.65" fill="#f6eabf" stroke="#5a4a20" stroke-width="0.35"/><rect x="502.86" y="454.93" width="1.99" height="4.65" fill="#f6eabf" stroke="#5a4a20" stroke-width="0.35"/><rect x="504.85" y="454.93" width="1.99" height="4.65" fill="#f6eabf" stroke="#5a4a20" stroke-width="0.35"/><rect x="511.80" y="453.50" width="22.60" height="7.50" rx="1.2" fill="#fff" stroke="#6a6a6a" stroke-width="0.6"/><rect x="513.38" y="454.93" width="1.92" height="4.65" fill="#f3c4ca" stroke="#6a3038" stroke-width="0.35"/><rect x="515.30" y="454.93" width="1.92" height="4.65" fill="#f3c4ca" stroke="#6a3038" stroke-width="0.35"/><rect x="517.22" y="454.93" width="1.92" height="4.65" fill="#f3c4ca" stroke="#6a3038" stroke-width="0.35"/><rect x="519.15" y="454.93" width="1.92" height="4.65" fill="#f3c4ca" stroke="#6a3038" stroke-width="0.35"/><line x1="521.74" y1="457.25" x2="525.36" y2="457.25" stroke="#666" stroke-width="0.4"/><rect x="526.26" y="454.93" width="1.92" height="4.65" fill="#f3c4ca" stroke="#6a3038" stroke-width="0.35"/><rect x="528.19" y="454.93" width="1.92" height="4.65" fill="#f3c4ca" stroke="#6a3038" stroke-width="0.35"/><rect x="530.11" y="454.93" width="1.92" height="4.65" fill="#f3c4ca" stroke="#6a3038" stroke-width="0.35"/><line x1="497.60" y1="462.00" x2="497.60" y2="468.10" stroke="#333" stroke-width="0.45"/><path d="M497.60 469.50 L496.90 468.10 L498.30 468.10 z" fill="#333"/><line x1="523.10" y1="462.00" x2="523.10" y2="468.10" stroke="#333" stroke-width="0.45"/><path d="M523.10 469.50 L522.40 468.10 L523.80 468.10 z" fill="#333"/><rect x="490.00" y="470.30" width="16.00" height="5.80" rx="1.00" fill="#d9e9df" stroke="#7a9a8a" stroke-width="0.5"/><text x="498.00" y="474.18" font-size="2.80" text-anchor="middle" fill="#1a1a1a" style="font-family:'Liberation Serif',serif" >Pooling</text><rect x="516.00" y="470.30" width="16.00" height="5.80" rx="1.00" fill="#d9e9df" stroke="#7a9a8a" stroke-width="0.5"/><text x="524.00" y="474.18" font-size="2.80" text-anchor="middle" fill="#1a1a1a" style="font-family:'Liberation Serif',serif" >Pooling</text><line x1="497.60" y1="476.50" x2="497.60" y2="482.40" stroke="#333" stroke-width="0.45"/><path d="M497.60 483.80 L496.90 482.40 L498.30 482.40 z" fill="#333"/><line x1="523.10" y1="476.50" x2="523.10" y2="482.40" stroke="#333" stroke-width="0.45"/><path d="M523.10 483.80 L522.40 482.40 L523.80 482.40 z" fill="#333"/><rect x="496.2" y="484.2" width="2.7" height="5.8" fill="#f6eabf" stroke="#5a4a20" stroke-width="0.4"/><rect x="521.9" y="484.2" width="2.7" height="5.8" fill="#f3c4ca" stroke="#6a3038" stroke-width="0.4"/><line x1="498.00" y1="491.00" x2="507.41" y2="498.62" stroke="#333" stroke-width="0.45"/><path d="M508.50 499.50 L506.97 499.16 L507.85 498.08 z" fill="#333"/><line x1="523.00" y1="491.00" x2="513.11" y2="498.64" stroke="#333" stroke-width="0.45"/><path d="M512.00 499.50 L512.68 498.09 L513.54 499.20 z" fill="#333"/><rect x="507.6" y="500" width="2.6" height="6.3" fill="#f6eabf" stroke="#5a4a20" stroke-width="0.4"/><rect x="510.2" y="500" width="2.6" height="6.3" fill="#f3c4ca" stroke="#6a3038" stroke-width="0.4"/><text x="510.00" y="512.40" font-size="2.70" text-anchor="middle" fill="#222" style="font-family:'Liberation Serif',serif" >(1) Concatenation</text><rect x="537.80" y="453.50" width="23.40" height="7.50" rx="1.2" fill="#fff" stroke="#6a6a6a" stroke-width="0.6"/><rect x="539.44" y="454.93" width="1.99" height="4.65" fill="#f6eabf" stroke="#5a4a20" stroke-width="0.35"/><rect x="541.43" y="454.93" width="1.99" height="4.65" fill="#f6eabf" stroke="#5a4a20" stroke-width="0.35"/><rect x="543.42" y="454.93" width="1.99" height="4.65" fill="#f6eabf" stroke="#5a4a20" stroke-width="0.35"/><rect x="545.40" y="454.93" width="1.99" height="4.65" fill="#f6eabf" stroke="#5a4a20" stroke-width="0.35"/><line x1="548.10" y1="457.25" x2="551.84" y2="457.25" stroke="#666" stroke-width="0.4"/><rect x="552.78" y="454.93" width="1.99" height="4.65" fill="#f6eabf" stroke="#5a4a20" stroke-width="0.35"/><rect x="554.76" y="454.93" width="1.99" height="4.65" fill="#f6eabf" stroke="#5a4a20" stroke-width="0.35"/><rect x="556.75" y="454.93" width="1.99" height="4.65" fill="#f6eabf" stroke="#5a4a20" stroke-width="0.35"/><rect x="563.80" y="453.50" width="24.50" height="7.50" rx="1.2" fill="#fff" stroke="#6a6a6a" stroke-width="0.6"/><rect x="565.51" y="454.93" width="2.08" height="4.65" fill="#f3c4ca" stroke="#6a3038" stroke-width="0.35"/><rect x="567.60" y="454.93" width="2.08" height="4.65" fill="#f3c4ca" stroke="#6a3038" stroke-width="0.35"/><rect x="569.68" y="454.93" width="2.08" height="4.65" fill="#f3c4ca" stroke="#6a3038" stroke-width="0.35"/><rect x="571.76" y="454.93" width="2.08" height="4.65" fill="#f3c4ca" stroke="#6a3038" stroke-width="0.35"/><line x1="574.58" y1="457.25" x2="578.50" y2="457.25" stroke="#666" stroke-width="0.4"/><rect x="579.48" y="454.93" width="2.08" height="4.65" fill="#f3c4ca" stroke="#6a3038" stroke-width="0.35"/><rect x="581.56" y="454.93" width="2.08" height="4.65" fill="#f3c4ca" stroke="#6a3038" stroke-width="0.35"/><rect x="583.64" y="454.93" width="2.08" height="4.65" fill="#f3c4ca" stroke="#6a3038" stroke-width="0.35"/><line x1="547.40" y1="461.50" x2="547.40" y2="465.20" stroke="#333" stroke-width="0.45"/><path d="M547.40 466.60 L546.70 465.20 L548.10 465.20 z" fill="#333"/><line x1="576.00" y1="461.50" x2="567.25" y2="465.96" stroke="#333" stroke-width="0.45"/><path d="M566.00 466.60 L566.93 465.34 L567.57 466.59 z" fill="#333"/><line x1="576.00" y1="461.50" x2="578.29" y2="465.39" stroke="#333" stroke-width="0.45"/><path d="M579.00 466.60 L577.69 465.75 L578.89 465.04 z" fill="#333"/><rect x="542.80" y="466.90" width="9.20" height="5.50" rx="1.00" fill="#dcdcf5" stroke="#7777aa" stroke-width="0.5"/><text x="547.40" y="470.59" font-size="2.70" text-anchor="middle" fill="#1a1a1a" style="font-family:'Liberation Serif',serif" >Linear</text><rect x="560.40" y="466.90" width="10.90" height="5.50" rx="1.00" fill="#dcdcf5" stroke="#7777aa" stroke-width="0.5"/><text x="565.85" y="470.59" font-size="2.70" text-anchor="middle" fill="#1a1a1a" style="font-family:'Liberation Serif',serif" >Linear</text><rect x="573.00" y="466.90" width="11.30" height="5.50" rx="1.00" fill="#dcdcf5" stroke="#7777aa" stroke-width="0.5"/><text x="578.65" y="470.59" font-size="2.70" text-anchor="middle" fill="#1a1a1a" style="font-family:'Liberation Serif',serif" >Linear</text><line x1="547.40" y1="472.60" x2="547.40" y2="476.30" stroke="#333" stroke-width="0.45"/><path d="M547.40 477.60 L546.75 476.30 L548.05 476.30 z" fill="#333"/><text x="545.20" y="475.60" font-size="2.00" text-anchor="middle" fill="#333" style="font-family:'Liberation Serif',serif" >Q</text><line x1="565.80" y1="472.60" x2="565.80" y2="476.30" stroke="#333" stroke-width="0.45"/><path d="M565.80 477.60 L565.15 476.30 L566.45 476.30 z" fill="#333"/><text x="563.60" y="475.60" font-size="2.00" text-anchor="middle" fill="#333" style="font-family:'Liberation Serif',serif" >K</text><line x1="578.60" y1="472.60" x2="578.60" y2="476.30" stroke="#333" stroke-width="0.45"/><path d="M578.60 477.60 L577.95 476.30 L579.25 476.30 z" fill="#333"/><text x="576.40" y="475.60" font-size="2.00" text-anchor="middle" fill="#333" style="font-family:'Liberation Serif',serif" >V</text><rect x="545.30" y="477.80" width="37.40" height="8.40" rx="1.00" fill="#fbdcb4" stroke="#c08a50" stroke-width="0.5"/><text x="564.00" y="480.96" font-size="2.60" text-anchor="middle" fill="#1a1a1a" style="font-family:'Liberation Serif',serif" >Cross-modal</text><text x="564.00" y="484.86" font-size="2.60" text-anchor="middle" fill="#1a1a1a" style="font-family:'Liberation Serif',serif" >Multi-head Attention</text><line x1="563.70" y1="486.40" x2="563.70" y2="490.20" stroke="#333" stroke-width="0.45"/><path d="M563.70 491.50 L563.05 490.20 L564.35 490.20 z" fill="#333"/><rect x="556.20" y="491.70" width="15.10" height="5.70" rx="1.00" fill="#d9e9df" stroke="#7a9a8a" stroke-width="0.5"/><text x="563.75" y="495.53" font-size="2.80" text-anchor="middle" fill="#1a1a1a" style="font-family:'Liberation Serif',serif" >Pooling</text><line x1="563.40" y1="497.60" x2="563.40" y2="500.50" stroke="#333" stroke-width="0.45"/><path d="M563.40 501.80 L562.75 500.50 L564.05 500.50 z" fill="#333"/><rect x="562.1" y="502" width="2.6" height="6" rx="0.5" fill="#eaa800" stroke="#9a7000" stroke-width="0.4"/><text x="563.50" y="512.40" font-size="2.70" text-anchor="middle" fill="#222" style="font-family:'Liberation Serif',serif" >(2) Cross-modal Multi-head Attention</text><rect x="592.70" y="453.00" width="22.60" height="7.70" rx="1.2" fill="#fff" stroke="#6a6a6a" stroke-width="0.6"/><rect x="594.28" y="454.46" width="1.92" height="4.77" fill="#f6eabf" stroke="#5a4a20" stroke-width="0.35"/><rect x="596.20" y="454.46" width="1.92" height="4.77" fill="#f6eabf" stroke="#5a4a20" stroke-width="0.35"/><rect x="598.12" y="454.46" width="1.92" height="4.77" fill="#f6eabf" stroke="#5a4a20" stroke-width="0.35"/><rect x="600.05" y="454.46" width="1.92" height="4.77" fill="#f6eabf" stroke="#5a4a20" stroke-width="0.35"/><line x1="602.64" y1="456.85" x2="606.26" y2="456.85" stroke="#666" stroke-width="0.4"/><rect x="607.16" y="454.46" width="1.92" height="4.77" fill="#f6eabf" stroke="#5a4a20" stroke-width="0.35"/><rect x="609.09" y="454.46" width="1.92" height="4.77" fill="#f6eabf" stroke="#5a4a20" stroke-width="0.35"/><rect x="611.01" y="454.46" width="1.92" height="4.77" fill="#f6eabf" stroke="#5a4a20" stroke-width="0.35"/><rect x="622.80" y="453.00" width="22.60" height="7.70" rx="1.2" fill="#fff" stroke="#6a6a6a" stroke-width="0.6"/><rect x="624.38" y="454.46" width="1.92" height="4.77" fill="#f3c4ca" stroke="#6a3038" stroke-width="0.35"/><rect x="626.30" y="454.46" width="1.92" height="4.77" fill="#f3c4ca" stroke="#6a3038" stroke-width="0.35"/><rect x="628.22" y="454.46" width="1.92" height="4.77" fill="#f3c4ca" stroke="#6a3038" stroke-width="0.35"/><rect x="630.14" y="454.46" width="1.92" height="4.77" fill="#f3c4ca" stroke="#6a3038" stroke-width="0.35"/><line x1="632.74" y1="456.85" x2="636.36" y2="456.85" stroke="#666" stroke-width="0.4"/><rect x="637.26" y="454.46" width="1.92" height="4.77" fill="#f3c4ca" stroke="#6a3038" stroke-width="0.35"/><rect x="639.19" y="454.46" width="1.92" height="4.77" fill="#f3c4ca" stroke="#6a3038" stroke-width="0.35"/><rect x="641.11" y="454.46" width="1.92" height="4.77" fill="#f3c4ca" stroke="#6a3038" stroke-width="0.35"/><line x1="595.2" y1="461" x2="595.2" y2="484" stroke="#333" stroke-width="0.4"/><line x1="643.6" y1="461" x2="643.6" y2="484" stroke="#333" stroke-width="0.4"/><line x1="607.50" y1="461.00" x2="607.50" y2="463.00" stroke="#333" stroke-width="0.40"/><path d="M607.50 464.20 L606.90 463.00 L608.10 463.00 z" fill="#333"/><line x1="631.00" y1="461.00" x2="631.00" y2="463.00" stroke="#333" stroke-width="0.40"/><path d="M631.00 464.20 L630.40 463.00 L631.60 463.00 z" fill="#333"/><rect x="605.20" y="464.40" width="29.30" height="4.50" rx="1.00" fill="#fbdcb4" stroke="#c08a50" stroke-width="0.5"/><text x="619.85" y="467.56" font-size="2.60" text-anchor="middle" fill="#1a1a1a" style="font-family:'Liberation Serif',serif" >Softmax Attention</text><rect x="596.90" y="472.80" width="22.10" height="7.50" rx="1.2" fill="#fff" stroke="#6a6a6a" stroke-width="0.6"/><rect x="598.45" y="474.23" width="1.88" height="4.65" fill="#f6eabf" stroke="#5a4a20" stroke-width="0.35"/><rect x="600.33" y="474.23" width="1.88" height="4.65" fill="#f6eabf" stroke="#5a4a20" stroke-width="0.35"/><rect x="602.20" y="474.23" width="1.88" height="4.65" fill="#f6eabf" stroke="#5a4a20" stroke-width="0.35"/><rect x="604.08" y="474.23" width="1.88" height="4.65" fill="#f6eabf" stroke="#5a4a20" stroke-width="0.35"/><line x1="606.62" y1="476.55" x2="610.16" y2="476.55" stroke="#666" stroke-width="0.4"/><rect x="611.04" y="474.23" width="1.88" height="4.65" fill="#f6eabf" stroke="#5a4a20" stroke-width="0.35"/><rect x="612.92" y="474.23" width="1.88" height="4.65" fill="#f6eabf" stroke="#5a4a20" stroke-width="0.35"/><rect x="614.80" y="474.23" width="1.88" height="4.65" fill="#f6eabf" stroke="#5a4a20" stroke-width="0.35"/><rect x="620.00" y="472.80" width="22.40" height="7.50" rx="1.2" fill="#fff" stroke="#6a6a6a" stroke-width="0.6"/><rect x="621.57" y="474.23" width="1.90" height="4.65" fill="#f6eabf" stroke="#5a4a20" stroke-width="0.35"/><rect x="623.47" y="474.23" width="1.90" height="4.65" fill="#f6eabf" stroke="#5a4a20" stroke-width="0.35"/><rect x="625.38" y="474.23" width="1.90" height="4.65" fill="#f6eabf" stroke="#5a4a20" stroke-width="0.35"/><rect x="627.28" y="474.23" width="1.90" height="4.65" fill="#f6eabf" stroke="#5a4a20" stroke-width="0.35"/><line x1="629.86" y1="476.55" x2="633.44" y2="476.55" stroke="#666" stroke-width="0.4"/><rect x="634.34" y="474.23" width="1.90" height="4.65" fill="#f6eabf" stroke="#5a4a20" stroke-width="0.35"/><rect x="636.24" y="474.23" width="1.90" height="4.65" fill="#f6eabf" stroke="#5a4a20" stroke-width="0.35"/><rect x="638.14" y="474.23" width="1.90" height="4.65" fill="#f6eabf" stroke="#5a4a20" stroke-width="0.35"/><rect x="596.90" y="484.50" width="22.10" height="5.50" rx="1.00" fill="#fff" stroke="#777" stroke-width="0.5"/><text x="607.95" y="487.95" font-size="2.00" text-anchor="middle" fill="#1a1a1a" style="font-family:'Liberation Serif',serif" >[t; t̃; t−t̃; t⊙t̃]</text><rect x="621.50" y="484.50" width="25.10" height="5.50" rx="1.00" fill="#fff" stroke="#777" stroke-width="0.5"/><text x="634.05" y="487.95" font-size="2.00" text-anchor="middle" fill="#1a1a1a" style="font-family:'Liberation Serif',serif" >[i; ĩ; i−ĩ; i⊙ĩ]</text><line x1="608.00" y1="490.20" x2="608.00" y2="492.30" stroke="#333" stroke-width="0.40"/><path d="M608.00 493.50 L607.40 492.30 L608.60 492.30 z" fill="#333"/><line x1="632.00" y1="490.20" x2="632.00" y2="492.30" stroke="#333" stroke-width="0.40"/><path d="M632.00 493.50 L631.40 492.30 L632.60 492.30 z" fill="#333"/><rect x="599.70" y="493.70" width="38.50" height="4.70" rx="1.00" fill="#d9e9df" stroke="#7a9a8a" stroke-width="0.5"/><text x="618.95" y="496.96" font-size="2.60" text-anchor="middle" fill="#1a1a1a" style="font-family:'Liberation Serif',serif" >Average &amp; Max Pooling</text><line x1="618.60" y1="498.60" x2="618.60" y2="501.00" stroke="#333" stroke-width="0.40"/><path d="M618.60 502.20 L618.00 501.00 L619.20 501.00 z" fill="#333"/><rect x="600.2" y="502.4" width="36.3" height="5.6" rx="0.6" fill="#eaa800" stroke="#9a7000" stroke-width="0.5"/><text x="618.40" y="506.20" font-size="2.40" text-anchor="middle" fill="#222" style="font-family:'Liberation Serif',serif" >Tₐᵥₑ Tₘₐₓ Iₐᵥₑ Iₘₐₓ</text><text x="618.60" y="512.40" font-size="2.70" text-anchor="middle" fill="#222" style="font-family:'Liberation Serif',serif" >(3) Semantic Similarity Attention</text></g><use href="#mdl" transform="matrix(1.175 0 0 1.175 -556.4 -37.06)"/><rect x="9.8" y="428.3" width="83.5" height="33.2" rx="6" fill="none" stroke="#e8951c" stroke-width="0.9"/><rect x="93.8" y="428.3" width="92.2" height="33.2" rx="6" fill="none" stroke="#e8951c" stroke-width="0.9"/><path d="M22 461.5 H196.5 Q208.5 461.5 208.5 473.5 V553 Q208.5 565 196.5 565 H21.8 Q9.8 565 9.8 553 V473.5 Q9.8 461.5 22 461.5 Z" fill="none" stroke="#e8951c" stroke-width="1"/><text x="62.00" y="431.80" font-size="3.60" text-anchor="middle" fill="#1a1a1a" style="font-family:'Liberation Serif',serif" >Addressing Data Imbalance</text><text x="139.50" y="431.80" font-size="3.60" text-anchor="middle" fill="#1a1a1a" style="font-family:'Liberation Serif',serif" >Data Augmentation</text><rect x="30.6" y="434.2" width="61.4" height="26" rx="3.5" fill="#e3dbef" stroke="#333" stroke-width="0.6"/><rect x="12.2" y="434.9" width="17.8" height="4.4" fill="#f5e800" stroke="#555" stroke-width="0.4"/><text x="21.10" y="438.30" font-size="3.40" text-anchor="middle" fill="#222" style="font-family:'Liberation Serif',serif" >Text Inputs</text><path d="M16.60 440.60 h6.37 l2.73 2.22 v7.88 h-9.10 z" fill="#fff" stroke="#111" stroke-width="0.60" stroke-linejoin="round"/><path d="M22.97 440.60 v2.22 h2.73" fill="none" stroke="#111" stroke-width="0.48"/><line x1="18.42" y1="444.84" x2="23.88" y2="444.84" stroke="#222" stroke-width="0.60"/><line x1="18.42" y1="446.56" x2="23.88" y2="446.56" stroke="#222" stroke-width="0.60"/><line x1="18.42" y1="448.28" x2="23.88" y2="448.28" stroke="#222" stroke-width="0.60"/><text x="21.00" y="455.00" font-size="3.40" text-anchor="middle" fill="#1a1a1a" style="font-family:'Liberation Serif',serif" >(English)</text><line x1="28.00" y1="445.20" x2="48.00" y2="445.20" stroke="#111" stroke-width="0.50"/><path d="M49.50 445.20 L48.00 445.95 L48.00 444.45 z" fill="#111"/><text x="40.00" y="443.80" font-size="3.40" text-anchor="middle" fill="#1a1a1a" style="font-family:'Liberation Serif',serif" >Translation</text><text x="55.00" y="438.50" font-size="3.40" text-anchor="middle" fill="#1a1a1a" style="font-family:'Liberation Serif',serif" >Back-translation</text><path d="M50.30 441.00 h6.16 l2.64 2.13 v7.57 h-8.80 z" fill="#fff" stroke="#111" stroke-width="0.70" stroke-linejoin="round"/><path d="M56.46 441.00 v2.13 h2.64" fill="none" stroke="#111" stroke-width="0.56"/><line x1="52.06" y1="445.07" x2="57.34" y2="445.07" stroke="#5b5bd6" stroke-width="0.70"/><line x1="52.06" y1="446.72" x2="57.34" y2="446.72" stroke="#5b5bd6" stroke-width="0.70"/><line x1="52.06" y1="448.37" x2="57.34" y2="448.37" stroke="#5b5bd6" stroke-width="0.70"/><text x="54.70" y="454.70" font-size="3.40" text-anchor="middle" fill="#1a1a1a" style="font-family:'Liberation Serif',serif" >(Random language</text><text x="54.70" y="458.50" font-size="3.40" text-anchor="middle" fill="#1a1a1a" style="font-family:'Liberation Serif',serif" >e.g. French)</text><line x1="60.50" y1="445.20" x2="77.00" y2="445.20" stroke="#111" stroke-width="0.50"/><path d="M78.50 445.20 L77.00 445.95 L77.00 444.45 z" fill="#111"/><text x="69.00" y="443.80" font-size="3.40" text-anchor="middle" fill="#1a1a1a" style="font-family:'Liberation Serif',serif" >Translation</text><path d="M80.22 441.30 h5.60 l2.40 2.20 v7.80 h-8.00 z" fill="#fff" stroke="#111" stroke-width="0.60"/><path d="M81.50 440.30 h5.60 l2.40 2.20 v7.80 h-8.00 z" fill="#fff" stroke="#111" stroke-width="0.60" stroke-linejoin="round"/><path d="M87.10 440.30 v2.20 h2.40" fill="none" stroke="#111" stroke-width="0.48"/><line x1="83.10" y1="444.50" x2="87.90" y2="444.50" stroke="#222" stroke-width="0.60"/><line x1="83.10" y1="446.20" x2="87.90" y2="446.20" stroke="#222" stroke-width="0.60"/><line x1="83.10" y1="447.90" x2="87.90" y2="447.90" stroke="#222" stroke-width="0.60"/><text x="85.00" y="456.00" font-size="3.40" text-anchor="middle" fill="#1a1a1a" style="font-family:'Liberation Serif',serif" >(English)</text><line x1="90.00" y1="445.20" x2="98.50" y2="445.20" stroke="#111" stroke-width="0.50"/><path d="M100.00 445.20 L98.50 445.95 L98.50 444.45 z" fill="#111"/><rect x="94.6" y="434" width="88" height="26" rx="3.5" fill="#fbf3c2" stroke="#333" stroke-width="0.6"/><path d="M101.78 443.40 h5.32 l2.28 2.42 v8.58 h-7.60 z" fill="#fff" stroke="#111" stroke-width="0.60"/><path d="M103.00 442.30 h5.32 l2.28 2.42 v8.58 h-7.60 z" fill="#fff" stroke="#111" stroke-width="0.60" stroke-linejoin="round"/><path d="M108.32 442.30 v2.42 h2.28" fill="none" stroke="#111" stroke-width="0.48"/><line x1="104.52" y1="446.92" x2="109.08" y2="446.92" stroke="#222" stroke-width="0.60"/><line x1="104.52" y1="448.79" x2="109.08" y2="448.79" stroke="#222" stroke-width="0.60"/><line x1="104.52" y1="450.66" x2="109.08" y2="450.66" stroke="#222" stroke-width="0.60"/><path d="M115.30 444.30 L112.00 447.00 L117.62 445.66" fill="#fff" stroke="#111" stroke-width="0.7"/><ellipse cx="118.20" cy="442.60" rx="5.80" ry="3.40" fill="#fff" stroke="#111" stroke-width="0.7"/><text x="118.20" y="443.52" font-size="2.80" text-anchor="middle" fill="#111" style="font-family:'Liberation Serif',serif" >Noun</text><line x1="113.00" y1="448.50" x2="121.60" y2="448.50" stroke="#111" stroke-width="0.50"/><path d="M123.00 448.50 L121.60 449.20 L121.60 447.80 z" fill="#111"/><text x="134.00" y="438.50" font-size="3.40" text-anchor="middle" fill="#1a1a1a" style="font-family:'Liberation Serif',serif" >WordNet</text><circle cx="129.18" cy="446.55" r="3.52" fill="none" stroke="#8088c0" stroke-width="0.36" stroke-dasharray="0.66 0.48"/><line x1="129.18" y1="446.55" x2="132.61" y2="447.32" stroke="#8088c0" stroke-width="0.21" stroke-dasharray="0.48 0.36"/><line x1="129.18" y1="446.55" x2="131.06" y2="449.52" stroke="#8088c0" stroke-width="0.21" stroke-dasharray="0.48 0.36"/><line x1="129.18" y1="446.55" x2="128.41" y2="449.98" stroke="#8088c0" stroke-width="0.21" stroke-dasharray="0.48 0.36"/><line x1="129.18" y1="446.55" x2="126.21" y2="448.44" stroke="#8088c0" stroke-width="0.21" stroke-dasharray="0.48 0.36"/><line x1="129.18" y1="446.55" x2="125.75" y2="445.78" stroke="#8088c0" stroke-width="0.21" stroke-dasharray="0.48 0.36"/><line x1="129.18" y1="446.55" x2="127.30" y2="443.58" stroke="#8088c0" stroke-width="0.21" stroke-dasharray="0.48 0.36"/><line x1="129.18" y1="446.55" x2="129.95" y2="443.12" stroke="#8088c0" stroke-width="0.21" stroke-dasharray="0.48 0.36"/><line x1="129.18" y1="446.55" x2="132.15" y2="444.67" stroke="#8088c0" stroke-width="0.21" stroke-dasharray="0.48 0.36"/><circle cx="135.45" cy="445.44" r="3.71" fill="none" stroke="#8088c0" stroke-width="0.36" stroke-dasharray="0.66 0.48"/><line x1="135.45" y1="445.44" x2="138.61" y2="447.38" stroke="#8088c0" stroke-width="0.21" stroke-dasharray="0.48 0.36"/><line x1="135.45" y1="445.44" x2="136.32" y2="449.04" stroke="#8088c0" stroke-width="0.21" stroke-dasharray="0.48 0.36"/><line x1="135.45" y1="445.44" x2="133.51" y2="448.60" stroke="#8088c0" stroke-width="0.21" stroke-dasharray="0.48 0.36"/><line x1="135.45" y1="445.44" x2="131.84" y2="446.30" stroke="#8088c0" stroke-width="0.21" stroke-dasharray="0.48 0.36"/><line x1="135.45" y1="445.44" x2="132.29" y2="443.50" stroke="#8088c0" stroke-width="0.21" stroke-dasharray="0.48 0.36"/><line x1="135.45" y1="445.44" x2="134.58" y2="441.83" stroke="#8088c0" stroke-width="0.21" stroke-dasharray="0.48 0.36"/><line x1="135.45" y1="445.44" x2="137.39" y2="442.27" stroke="#8088c0" stroke-width="0.21" stroke-dasharray="0.48 0.36"/><line x1="135.45" y1="445.44" x2="139.06" y2="444.57" stroke="#8088c0" stroke-width="0.21" stroke-dasharray="0.48 0.36"/><circle cx="129.37" cy="453.43" r="3.52" fill="none" stroke="#8088c0" stroke-width="0.36" stroke-dasharray="0.66 0.48"/><line x1="129.37" y1="453.43" x2="132.79" y2="454.24" stroke="#8088c0" stroke-width="0.21" stroke-dasharray="0.48 0.36"/><line x1="129.37" y1="453.43" x2="131.22" y2="456.42" stroke="#8088c0" stroke-width="0.21" stroke-dasharray="0.48 0.36"/><line x1="129.37" y1="453.43" x2="128.57" y2="456.86" stroke="#8088c0" stroke-width="0.21" stroke-dasharray="0.48 0.36"/><line x1="129.37" y1="453.43" x2="126.38" y2="455.29" stroke="#8088c0" stroke-width="0.21" stroke-dasharray="0.48 0.36"/><line x1="129.37" y1="453.43" x2="125.95" y2="452.63" stroke="#8088c0" stroke-width="0.21" stroke-dasharray="0.48 0.36"/><line x1="129.37" y1="453.43" x2="127.52" y2="450.45" stroke="#8088c0" stroke-width="0.21" stroke-dasharray="0.48 0.36"/><line x1="129.37" y1="453.43" x2="130.17" y2="450.01" stroke="#8088c0" stroke-width="0.21" stroke-dasharray="0.48 0.36"/><line x1="129.37" y1="453.43" x2="132.36" y2="451.58" stroke="#8088c0" stroke-width="0.21" stroke-dasharray="0.48 0.36"/><circle cx="137.54" cy="453.99" r="3.22" fill="none" stroke="#5a60a8" stroke-width="0.48" /><line x1="137.54" y1="453.99" x2="140.09" y2="455.97" stroke="#5a60a8" stroke-width="0.21" stroke-dasharray="0.48 0.36"/><line x1="137.54" y1="453.99" x2="137.94" y2="457.19" stroke="#5a60a8" stroke-width="0.21" stroke-dasharray="0.48 0.36"/><line x1="137.54" y1="453.99" x2="135.56" y2="456.54" stroke="#5a60a8" stroke-width="0.21" stroke-dasharray="0.48 0.36"/><line x1="137.54" y1="453.99" x2="134.34" y2="454.40" stroke="#5a60a8" stroke-width="0.21" stroke-dasharray="0.48 0.36"/><line x1="137.54" y1="453.99" x2="134.99" y2="452.02" stroke="#5a60a8" stroke-width="0.21" stroke-dasharray="0.48 0.36"/><line x1="137.54" y1="453.99" x2="137.14" y2="450.79" stroke="#5a60a8" stroke-width="0.21" stroke-dasharray="0.48 0.36"/><line x1="137.54" y1="453.99" x2="139.52" y2="451.45" stroke="#5a60a8" stroke-width="0.21" stroke-dasharray="0.48 0.36"/><line x1="137.54" y1="453.99" x2="140.74" y2="453.59" stroke="#5a60a8" stroke-width="0.21" stroke-dasharray="0.48 0.36"/><circle cx="133.55" cy="456.97" r="2.15" fill="none" stroke="#8088c0" stroke-width="0.36" stroke-dasharray="0.66 0.48"/><line x1="133.55" y1="456.97" x2="135.48" y2="457.90" stroke="#8088c0" stroke-width="0.21" stroke-dasharray="0.48 0.36"/><line x1="133.55" y1="456.97" x2="134.26" y2="459.00" stroke="#8088c0" stroke-width="0.21" stroke-dasharray="0.48 0.36"/><line x1="133.55" y1="456.97" x2="132.62" y2="458.90" stroke="#8088c0" stroke-width="0.21" stroke-dasharray="0.48 0.36"/><line x1="133.55" y1="456.97" x2="131.52" y2="457.68" stroke="#8088c0" stroke-width="0.21" stroke-dasharray="0.48 0.36"/><line x1="133.55" y1="456.97" x2="131.62" y2="456.03" stroke="#8088c0" stroke-width="0.21" stroke-dasharray="0.48 0.36"/><line x1="133.55" y1="456.97" x2="132.84" y2="454.94" stroke="#8088c0" stroke-width="0.21" stroke-dasharray="0.48 0.36"/><line x1="133.55" y1="456.97" x2="134.48" y2="455.03" stroke="#8088c0" stroke-width="0.21" stroke-dasharray="0.48 0.36"/><line x1="133.55" y1="456.97" x2="135.58" y2="456.26" stroke="#8088c0" stroke-width="0.21" stroke-dasharray="0.48 0.36"/><circle cx="132.98" cy="449.90" r="2.34" fill="none" stroke="#9aa0cc" stroke-width="0.36" stroke-dasharray="0.66 0.48"/><line x1="132.98" y1="449.90" x2="135.12" y2="450.86" stroke="#9aa0cc" stroke-width="0.21" stroke-dasharray="0.48 0.36"/><line x1="132.98" y1="449.90" x2="133.82" y2="452.09" stroke="#9aa0cc" stroke-width="0.21" stroke-dasharray="0.48 0.36"/><line x1="132.98" y1="449.90" x2="132.02" y2="452.04" stroke="#9aa0cc" stroke-width="0.21" stroke-dasharray="0.48 0.36"/><line x1="132.98" y1="449.90" x2="130.79" y2="450.74" stroke="#9aa0cc" stroke-width="0.21" stroke-dasharray="0.48 0.36"/><line x1="132.98" y1="449.90" x2="130.84" y2="448.94" stroke="#9aa0cc" stroke-width="0.21" stroke-dasharray="0.48 0.36"/><line x1="132.98" y1="449.90" x2="132.14" y2="447.71" stroke="#9aa0cc" stroke-width="0.21" stroke-dasharray="0.48 0.36"/><line x1="132.98" y1="449.90" x2="133.94" y2="447.76" stroke="#9aa0cc" stroke-width="0.21" stroke-dasharray="0.48 0.36"/><line x1="132.98" y1="449.90" x2="135.17" y2="449.06" stroke="#9aa0cc" stroke-width="0.21" stroke-dasharray="0.48 0.36"/><path d="M148.50 439.40 L146.00 446.00 L151.30 440.68" fill="#fff" stroke="#111" stroke-width="0.7"/><ellipse cx="152.00" cy="437.80" rx="7.00" ry="3.20" fill="#fff" stroke="#111" stroke-width="0.7"/><text x="152.00" y="438.66" font-size="2.60" text-anchor="middle" fill="#111" style="font-family:'Liberation Serif',serif" >synonym</text><path d="M147.00 443.60 L145.00 448.00 L149.80 444.88" fill="#fff" stroke="#111" stroke-width="0.7"/><ellipse cx="150.50" cy="442.00" rx="7.00" ry="3.20" fill="#fff" stroke="#111" stroke-width="0.7"/><text x="150.50" y="442.86" font-size="2.60" text-anchor="middle" fill="#111" style="font-family:'Liberation Serif',serif" >synonym</text><line x1="152.00" y1="449.50" x2="159.60" y2="449.50" stroke="#111" stroke-width="0.50"/><path d="M161.00 449.50 L159.60 450.20 L159.60 448.80 z" fill="#111"/><path d="M162.28 446.90 h5.95 l2.55 2.53 v8.97 h-8.50 z" fill="#fff" stroke="#111" stroke-width="0.60"/><path d="M163.64 445.75 h5.95 l2.55 2.53 v8.97 h-8.50 z" fill="#fff" stroke="#111" stroke-width="0.60"/><path d="M165.00 444.60 h5.95 l2.55 2.53 v8.97 h-8.50 z" fill="#fff" stroke="#111" stroke-width="0.60" stroke-linejoin="round"/><path d="M170.95 444.60 v2.53 h2.55" fill="none" stroke="#111" stroke-width="0.48"/><line x1="166.70" y1="449.43" x2="171.80" y2="449.43" stroke="#222" stroke-width="0.60"/><line x1="166.70" y1="451.39" x2="171.80" y2="451.39" stroke="#222" stroke-width="0.60"/><line x1="166.70" y1="453.34" x2="171.80" y2="453.34" stroke="#222" stroke-width="0.60"/><path d="M167.75 440.30 L170.00 444.00 L170.35 441.58" fill="#fff" stroke="#111" stroke-width="0.7"/><ellipse cx="171.00" cy="438.70" rx="6.50" ry="3.20" fill="#fff" stroke="#111" stroke-width="0.7"/><text x="171.00" y="439.56" font-size="2.60" text-anchor="middle" fill="#111" style="font-family:'Liberation Serif',serif" >synonym</text><line x1="171.5" y1="456.5" x2="171.5" y2="470" stroke="#111" stroke-width="0.7"/></svg>
<div class="r" style="left:663.10px;top:136.00px;width:198.00px;height:1.00px;background:#9a9a9a;"></div>
<div class="r" style="left:663.10px;top:148.70px;width:198.00px;height:0.90px;background:#aaa;"></div>
<div class="r" style="left:663.10px;top:191.40px;width:198.00px;height:1.50px;background:#a0a0a0;"></div>
<div class="r" style="left:663.10px;top:208.80px;width:198.00px;height:0.90px;background:#aaa;"></div>
<div class="r" style="left:663.10px;top:231.80px;width:198.00px;height:1.00px;background:#9a9a9a;"></div>
<div class="r" style="left:722.30px;top:136.80px;width:0.60px;height:95.00px;background:#8a8a8a;"></div>
<div class="r" style="left:745.90px;top:136.80px;width:0.90px;height:95.00px;background:#8a8a8a;"></div>
<div class="r" style="left:804.10px;top:136.80px;width:0.70px;height:95.00px;background:#8a8a8a;"></div>
<div class="t" style="left:665.00px;top:141.01px;font-size:4.30px;color:#111;font-weight:bold;">Models</div>
<div class="t" style="left:725.00px;top:141.01px;font-size:4.30px;color:#111;font-weight:bold;">Modality</div>
<div class="t" style="left:765.60px;top:138.60px;font-size:4.30px;color:#111;font-weight:bold;">Gun Control</div>
<div class="t" style="left:825.00px;top:138.60px;font-size:4.30px;color:#111;font-weight:bold;">Abortion</div>
<div class="t" style="left:751.51px;top:143.81px;font-size:4.30px;color:#111;font-weight:bold;">F1</div>
<div class="t" style="left:763.11px;top:143.81px;font-size:4.30px;color:#111;font-weight:bold;">MaF1</div>
<div class="t" style="left:778.94px;top:143.81px;font-size:4.30px;color:#111;font-weight:bold;">AUC</div>
<div class="t" style="left:793.84px;top:143.81px;font-size:4.30px;color:#111;font-weight:bold;">Acc</div>
<div class="t" style="left:808.51px;top:143.81px;font-size:4.30px;color:#111;font-weight:bold;">F1</div>
<div class="t" style="left:819.51px;top:143.81px;font-size:4.30px;color:#111;font-weight:bold;">MaF1</div>
<div class="t" style="left:835.74px;top:143.81px;font-size:4.30px;color:#111;font-weight:bold;">AUC</div>
<div class="t" style="left:850.54px;top:143.81px;font-size:4.30px;color:#111;font-weight:bold;">Acc</div>
<div class="t" style="left:665.00px;top:150.71px;font-size:4.30px;color:#111;">ResNet50</div>
<div class="t" style="left:725.00px;top:150.71px;font-size:4.30px;color:#111;">I</div>
<div class="t" style="left:749.06px;top:150.71px;font-size:4.30px;color:#111;">63.00</div>
<div class="t" style="left:763.76px;top:150.71px;font-size:4.30px;color:#111;">62.90</div>
<div class="t" style="left:778.76px;top:150.71px;font-size:4.30px;color:#111;">62.90</div>
<div class="t" style="left:792.46px;top:150.71px;font-size:4.30px;color:#111;">62.67</div>
<div class="t" style="left:806.06px;top:150.71px;font-size:4.30px;color:#111;">53.71</div>
<div class="t" style="left:820.16px;top:150.71px;font-size:4.30px;color:#111;">60.42</div>
<div class="t" style="left:835.56px;top:150.71px;font-size:4.30px;color:#111;">39.53</div>
<div class="t" style="left:849.16px;top:150.71px;font-size:4.30px;color:#111;">73.84</div>
<div class="t" style="left:665.00px;top:155.68px;font-size:4.30px;color:#111;">ResNet101</div>
<div class="t" style="left:725.00px;top:155.68px;font-size:4.30px;color:#111;">I</div>
<div class="t" style="left:749.06px;top:155.68px;font-size:4.30px;color:#111;">67.43</div>
<div class="t" style="left:763.76px;top:155.68px;font-size:4.30px;color:#111;">60.91</div>
<div class="t" style="left:778.76px;top:155.68px;font-size:4.30px;color:#111;">60.86</div>
<div class="t" style="left:792.46px;top:155.68px;font-size:4.30px;color:#111;">62.88</div>
<div class="t" style="left:806.06px;top:155.68px;font-size:4.30px;color:#111;">38.89</div>
<div class="t" style="left:820.16px;top:155.68px;font-size:4.30px;color:#111;">39.71</div>
<div class="t" style="left:835.56px;top:155.68px;font-size:4.30px;color:#111;">60.44</div>
<div class="t" style="left:849.16px;top:155.68px;font-size:4.30px;color:#111;">78.47</div>
<div class="t" style="left:665.00px;top:160.67px;font-size:4.30px;color:#111;">VGG16</div>
<div class="t" style="left:725.00px;top:160.67px;font-size:4.30px;color:#111;">I</div>
<div class="t" style="left:749.06px;top:160.67px;font-size:4.30px;color:#111;">67.44</div>
<div class="t" style="left:763.76px;top:160.67px;font-size:4.30px;color:#111;">61.33</div>
<div class="t" style="left:778.76px;top:160.67px;font-size:4.30px;color:#111;">61.31</div>
<div class="t" style="left:792.46px;top:160.67px;font-size:4.30px;color:#111;">62.67</div>
<div class="t" style="left:806.06px;top:160.67px;font-size:4.30px;color:#111;">38.46</div>
<div class="t" style="left:820.16px;top:160.67px;font-size:4.30px;color:#111;">38.52</div>
<div class="t" style="left:835.56px;top:160.67px;font-size:4.30px;color:#111;">39.80</div>
<div class="t" style="left:849.16px;top:160.67px;font-size:4.30px;color:#111;">67.79</div>
<div class="t" style="left:665.00px;top:165.65px;font-size:4.30px;color:#111;">LayoutLMv3</div>
<div class="t" style="left:725.00px;top:165.65px;font-size:4.30px;color:#111;">I+L</div>
<div class="t" style="left:749.06px;top:165.65px;font-size:4.30px;color:#111;">56.98</div>
<div class="t" style="left:763.76px;top:165.65px;font-size:4.30px;color:#111;">46.67</div>
<div class="t" style="left:778.76px;top:165.65px;font-size:4.30px;color:#111;">46.92</div>
<div class="t" style="left:792.46px;top:165.65px;font-size:4.30px;color:#111;">48.67</div>
<div class="t" style="left:806.06px;top:165.65px;font-size:4.30px;color:#111;">39.47</div>
<div class="t" style="left:820.16px;top:165.65px;font-size:4.30px;color:#111;">39.58</div>
<div class="t" style="left:835.56px;top:165.65px;font-size:4.30px;color:#111;">60.66</div>
<div class="t" style="left:849.16px;top:165.65px;font-size:4.30px;color:#111;">69.13</div>
<div class="t" style="left:665.00px;top:170.62px;font-size:4.30px;color:#111;">DeBERTa</div>
<div class="t" style="left:725.00px;top:170.62px;font-size:4.30px;color:#111;">T</div>
<div class="t" style="left:749.06px;top:170.62px;font-size:4.30px;color:#111;">86.32</div>
<div class="t" style="left:763.76px;top:170.62px;font-size:4.30px;color:#111;">81.34</div>
<div class="t" style="left:778.76px;top:170.62px;font-size:4.30px;color:#111;">80.54</div>
<div class="t" style="left:792.46px;top:170.62px;font-size:4.30px;color:#111;">82.67</div>
<div class="t" style="left:806.06px;top:170.62px;font-size:4.30px;color:#111;">71.43</div>
<div class="t" style="left:820.24px;top:170.62px;font-size:4.30px;color:#111;">80.11</div>
<div class="t" style="left:835.56px;top:170.62px;font-size:4.30px;color:#111;">86.40</div>
<div class="t" style="left:849.16px;top:170.62px;font-size:4.30px;color:#111;">83.89</div>
<div class="t" style="left:665.00px;top:175.60px;font-size:4.30px;color:#111;">DeBERTa+ResNet50</div>
<div class="t" style="left:725.00px;top:175.60px;font-size:4.30px;color:#111;">T+I</div>
<div class="t" style="left:749.06px;top:175.60px;font-size:4.30px;color:#111;font-weight:bold;">88.04</div>
<div class="t" style="left:763.76px;top:175.60px;font-size:4.30px;color:#111;font-weight:bold;">84.54</div>
<div class="t" style="left:778.76px;top:175.60px;font-size:4.30px;color:#111;font-weight:bold;">83.80</div>
<div class="t" style="left:792.46px;top:175.60px;font-size:4.30px;color:#111;font-weight:bold;">85.33</div>
<div class="t" style="left:806.06px;top:175.60px;font-size:4.30px;color:#111;">70.59</div>
<div class="t" style="left:820.16px;top:175.60px;font-size:4.30px;color:#111;">79.43</div>
<div class="t" style="left:835.56px;top:175.60px;font-size:4.30px;color:#111;">85.97</div>
<div class="t" style="left:849.16px;top:175.60px;font-size:4.30px;color:#111;">83.22</div>
<div class="t" style="left:665.00px;top:180.59px;font-size:4.30px;color:#111;">DeBERTa+ResNet101</div>
<div class="t" style="left:725.00px;top:180.59px;font-size:4.30px;color:#111;">T+I</div>
<div class="t" style="left:749.06px;top:180.59px;font-size:4.30px;color:#111;">87.50</div>
<div class="t" style="left:763.76px;top:180.59px;font-size:4.30px;color:#111;">82.64</div>
<div class="t" style="left:778.76px;top:180.59px;font-size:4.30px;color:#111;">81.72</div>
<div class="t" style="left:792.46px;top:180.59px;font-size:4.30px;color:#111;">84.00</div>
<div class="t" style="left:806.06px;top:180.59px;font-size:4.30px;color:#111;">73.17</div>
<div class="t" style="left:820.16px;top:180.59px;font-size:4.30px;color:#111;">81.49</div>
<div class="t" style="left:835.56px;top:180.59px;font-size:4.30px;color:#111;">87.36</div>
<div class="t" style="left:849.16px;top:180.59px;font-size:4.30px;color:#111;">85.23</div>
<div class="t" style="left:665.00px;top:185.57px;font-size:4.30px;color:#111;">DeBERTa+VGG16</div>
<div class="t" style="left:725.00px;top:185.57px;font-size:4.30px;color:#111;">T+I</div>
<div class="t" style="left:749.06px;top:185.57px;font-size:4.30px;color:#111;">87.96</div>
<div class="t" style="left:763.76px;top:185.57px;font-size:4.30px;color:#111;">83.43</div>
<div class="t" style="left:778.76px;top:185.57px;font-size:4.30px;color:#111;">82.49</div>
<div class="t" style="left:792.46px;top:185.57px;font-size:4.30px;color:#111;">84.67</div>
<div class="t" style="left:806.06px;top:185.57px;font-size:4.30px;color:#111;font-weight:bold;">74.07</div>
<div class="t" style="left:820.16px;top:185.57px;font-size:4.30px;color:#111;font-weight:bold;">82.30</div>
<div class="t" style="left:835.56px;top:185.57px;font-size:4.30px;color:#111;font-weight:bold;">87.70</div>
<div class="t" style="left:849.16px;top:185.57px;font-size:4.30px;color:#111;font-weight:bold;">85.91</div>
<div class="t" style="left:665.00px;top:193.90px;font-size:4.30px;color:#111;">DeBERTa+ResNet50</div>
<div class="t" style="left:725.00px;top:193.90px;font-size:4.30px;color:#111;">T+I ⁺</div>
<div class="t" style="left:749.06px;top:193.90px;font-size:4.30px;color:#111;font-weight:bold;">90.32</div>
<div class="t" style="left:763.76px;top:193.90px;font-size:4.30px;color:#111;font-weight:bold;">87.27</div>
<div class="t" style="left:778.76px;top:193.90px;font-size:4.30px;color:#111;font-weight:bold;">86.33</div>
<div class="t" style="left:792.46px;top:193.90px;font-size:4.30px;color:#111;font-weight:bold;">88.00</div>
<div class="t" style="left:806.06px;top:193.90px;font-size:4.30px;color:#111;">75.95</div>
<div class="t" style="left:820.16px;top:193.90px;font-size:4.30px;color:#111;">83.64</div>
<div class="t" style="left:835.56px;top:193.90px;font-size:4.30px;color:#111;">88.56</div>
<div class="t" style="left:849.16px;top:193.90px;font-size:4.30px;color:#111;">87.25</div>
<div class="t" style="left:665.00px;top:198.76px;font-size:4.30px;color:#111;">DeBERTa+ResNet101</div>
<div class="t" style="left:725.00px;top:198.76px;font-size:4.30px;color:#111;">T+I ⁺</div>
<div class="t" style="left:749.06px;top:198.76px;font-size:4.30px;color:#111;">87.43</div>
<div class="t" style="left:763.76px;top:198.76px;font-size:4.30px;color:#111;">83.89</div>
<div class="t" style="left:778.76px;top:198.76px;font-size:4.30px;color:#111;">83.21</div>
<div class="t" style="left:792.46px;top:198.76px;font-size:4.30px;color:#111;">84.67</div>
<div class="t" style="left:806.06px;top:198.76px;font-size:4.30px;color:#111;">70.75</div>
<div class="t" style="left:820.16px;top:198.76px;font-size:4.30px;color:#111;">79.61</div>
<div class="t" style="left:835.56px;top:198.76px;font-size:4.30px;color:#111;">85.32</div>
<div class="t" style="left:849.16px;top:198.76px;font-size:4.30px;color:#111;">83.89</div>
<div class="t" style="left:665.00px;top:203.60px;font-size:4.30px;color:#111;">DeBERTa+VGG16</div>
<div class="t" style="left:725.00px;top:203.60px;font-size:4.30px;color:#111;">T+I ⁺</div>
<div class="t" style="left:749.06px;top:203.60px;font-size:4.30px;color:#111;">89.73</div>
<div class="t" style="left:763.76px;top:203.60px;font-size:4.30px;color:#111;">86.60</div>
<div class="t" style="left:778.76px;top:203.60px;font-size:4.30px;color:#111;">85.75</div>
<div class="t" style="left:792.46px;top:203.60px;font-size:4.30px;color:#111;">87.33</div>
<div class="t" style="left:806.06px;top:203.60px;font-size:4.30px;color:#111;font-weight:bold;">77.50</div>
<div class="t" style="left:820.16px;top:203.60px;font-size:4.30px;color:#111;font-weight:bold;">84.62</div>
<div class="t" style="left:835.56px;top:203.60px;font-size:4.30px;color:#111;font-weight:bold;">90.07</div>
<div class="t" style="left:849.16px;top:203.60px;font-size:4.30px;color:#111;font-weight:bold;">87.92</div>
<div class="t" style="left:665.00px;top:210.81px;font-size:4.30px;color:#111;font-weight:bold;letter-spacing:-0.241px;">TILFA (DeBERTa+LayoutLMv3)</div>
<div class="t" style="left:725.00px;top:210.81px;font-size:4.30px;color:#111;">l1 T+I+L</div>
<div class="t" style="left:749.06px;top:210.81px;font-size:4.30px;color:#111;">89.13</div>
<div class="t" style="left:763.76px;top:210.81px;font-size:4.30px;color:#111;">85.94</div>
<div class="t" style="left:778.76px;top:210.81px;font-size:4.30px;color:#111;">85.16</div>
<div class="t" style="left:792.46px;top:210.81px;font-size:4.30px;color:#111;">86.67</div>
<div class="t" style="left:806.06px;top:210.81px;font-size:4.30px;color:#111;">76.34</div>
<div class="t" style="left:820.16px;top:210.81px;font-size:4.30px;color:#111;">83.99</div>
<div class="t" style="left:835.56px;top:210.81px;font-size:4.30px;color:#111;">89.64</div>
<div class="t" style="left:849.16px;top:210.81px;font-size:4.30px;color:#111;">87.25</div>
<div class="t" style="left:665.00px;top:215.78px;font-size:4.30px;color:#111;font-weight:bold;letter-spacing:-0.241px;">TILFA (DeBERTa+LayoutLMv3)</div>
<div class="t" style="left:725.00px;top:215.78px;font-size:4.30px;color:#111;">l1 T+I+L ⁺</div>
<div class="t" style="left:749.06px;top:215.78px;font-size:4.30px;color:#111;font-weight:bold;">90.81</div>
<div class="t" style="left:763.76px;top:215.78px;font-size:4.30px;color:#111;font-weight:bold;">88.01</div>
<div class="t" style="left:778.76px;top:215.78px;font-size:4.30px;color:#111;font-weight:bold;">87.10</div>
<div class="t" style="left:792.46px;top:215.78px;font-size:4.30px;color:#111;font-weight:bold;">88.67</div>
<div class="t" style="left:806.06px;top:215.78px;font-size:4.30px;color:#111;font-weight:bold;">80.52</div>
<div class="t" style="left:820.16px;top:215.78px;font-size:4.30px;color:#111;font-weight:bold;">86.07</div>
<div class="t" style="left:835.56px;top:215.78px;font-size:4.30px;color:#111;">91.17</div>
<div class="t" style="left:849.16px;top:215.78px;font-size:4.30px;color:#111;font-weight:bold;">89.93</div>
<div class="t" style="left:665.00px;top:220.75px;font-size:4.30px;color:#111;font-weight:bold;letter-spacing:-0.241px;">TILFA (DeBERTa+LayoutLMv3)</div>
<div class="t" style="left:725.00px;top:220.75px;font-size:4.30px;color:#111;">l2 T+I+L ⁺</div>
<div class="t" style="left:749.06px;top:220.75px;font-size:4.30px;color:#111;">90.32</div>
<div class="t" style="left:763.76px;top:220.75px;font-size:4.30px;color:#111;">87.27</div>
<div class="t" style="left:778.76px;top:220.75px;font-size:4.30px;color:#111;">86.33</div>
<div class="t" style="left:792.46px;top:220.75px;font-size:4.30px;color:#111;">88.00</div>
<div class="t" style="left:806.06px;top:220.75px;font-size:4.30px;color:#111;">77.50</div>
<div class="t" style="left:820.16px;top:220.75px;font-size:4.30px;color:#111;">84.62</div>
<div class="t" style="left:835.56px;top:220.75px;font-size:4.30px;color:#111;">90.07</div>
<div class="t" style="left:849.16px;top:220.75px;font-size:4.30px;color:#111;">87.92</div>
<div class="t" style="left:665.00px;top:225.71px;font-size:4.30px;color:#111;font-weight:bold;letter-spacing:-0.241px;">TILFA (DeBERTa+LayoutLMv3)</div>
<div class="t" style="left:725.00px;top:225.71px;font-size:4.30px;color:#111;">l3 T+I+L ⁺</div>
<div class="t" style="left:749.06px;top:225.71px;font-size:4.30px;color:#111;">88.89</div>
<div class="t" style="left:763.76px;top:225.71px;font-size:4.30px;color:#111;">84.98</div>
<div class="t" style="left:778.76px;top:225.71px;font-size:4.30px;color:#111;">84.03</div>
<div class="t" style="left:792.46px;top:225.71px;font-size:4.30px;color:#111;">86.00</div>
<div class="t" style="left:806.06px;top:225.71px;font-size:4.30px;color:#111;">79.01</div>
<div class="t" style="left:820.16px;top:225.71px;font-size:4.30px;color:#111;">85.59</div>
<div class="t" style="left:835.56px;top:225.71px;font-size:4.30px;color:#111;font-weight:bold;">91.39</div>
<div class="t" style="left:849.16px;top:225.71px;font-size:4.30px;color:#111;">88.59</div>
<div class="t" style="left:662.00px;top:236.51px;font-size:4.30px;color:#222;letter-spacing:0.076px;">Table 1: Performance of all frameworks on the testing set of both topics. Those below the double horizontal line</div>
<div class="t" style="left:662.00px;top:241.81px;font-size:4.30px;color:#222;letter-spacing:0.108px;">use our methods, and the above are baselines. For models that have both base and large sizes, we use the large</div>
<div class="t" style="left:662.00px;top:247.10px;font-size:4.30px;color:#222;letter-spacing:0.087px;">one. We abbreviate F1-score, Macro F1-score, Accuracy to F1, MaF1, Acc, respectively. T, I and L are short for</div>
<div class="t" style="left:662.00px;top:252.40px;font-size:4.30px;color:#222;letter-spacing:0.035px;">text modality, image modality and layout modality. Three multimodal fusion methods are named l1, l2 and l3 here.</div>
<div class="t" style="left:662.00px;top:257.71px;font-size:4.30px;color:#222;letter-spacing:0.052px;">Those with a superscript + use both back-translation and WordNet, while others don&#x27;t use either.</div>
<div class="t" style="left:865.20px;top:146.40px;font-size:3.70px;font-family:'Liberation Sans',sans-serif;color:#111;font-weight:bold;letter-spacing:-0.123px;">Subtask A (AS Classification) Leaderboard</div>
<div class="t" style="left:865.90px;top:157.40px;font-size:3.70px;font-family:'Liberation Sans',sans-serif;color:#222;font-weight:bold;">Rank</div>
<div class="t" style="left:876.20px;top:157.40px;font-size:3.70px;font-family:'Liberation Sans',sans-serif;color:#222;font-weight:bold;">Team Name</div>
<div class="t" style="left:904.30px;top:157.40px;font-size:3.70px;font-family:'Liberation Sans',sans-serif;color:#222;font-weight:bold;">Affiliation</div>
<div class="t" style="left:962.00px;top:157.40px;font-size:3.70px;font-family:'Liberation Sans',sans-serif;color:#222;font-weight:bold;">Attempt</div>
<div class="t" style="left:977.30px;top:157.40px;font-size:3.70px;font-family:'Liberation Sans',sans-serif;color:#222;font-weight:bold;">Score</div>
<div class="r" style="left:865.00px;top:161.30px;width:123.50px;height:0.50px;background:#e6e6e6;"></div>
<div class="r" style="left:865.00px;top:174.20px;width:123.50px;height:0.50px;background:#e6e6e6;"></div>
<div class="r" style="left:865.00px;top:186.20px;width:123.50px;height:0.50px;background:#e6e6e6;"></div>
<div class="r" style="left:865.00px;top:198.70px;width:123.50px;height:0.50px;background:#e6e6e6;"></div>
<div class="t" style="left:866.50px;top:167.01px;font-size:3.70px;font-family:'Liberation Sans',sans-serif;color:#8a8a8a;">1</div>
<div class="t" style="left:876.20px;top:167.01px;font-size:3.70px;font-family:'Liberation Sans',sans-serif;color:#8a8a8a;">KnowComp</div>
<div class="t" style="left:904.30px;top:164.51px;font-size:3.70px;font-family:'Liberation Sans',sans-serif;color:#8a8a8a;">The Hong Kong University of</div>
<div class="t" style="left:904.30px;top:169.60px;font-size:3.70px;font-family:'Liberation Sans',sans-serif;color:#8a8a8a;">Science and Technology</div>
<div class="t" style="left:962.70px;top:167.01px;font-size:3.70px;font-family:'Liberation Sans',sans-serif;color:#8a8a8a;">4</div>
<div class="t" style="left:977.30px;top:167.01px;font-size:3.70px;font-family:'Liberation Sans',sans-serif;color:#8a8a8a;">0.8647</div>
<div class="t" style="left:866.50px;top:179.01px;font-size:3.70px;font-family:'Liberation Sans',sans-serif;color:#8a8a8a;">2</div>
<div class="t" style="left:876.20px;top:179.01px;font-size:3.70px;font-family:'Liberation Sans',sans-serif;color:#8a8a8a;">Semantists</div>
<div class="t" style="left:904.30px;top:176.70px;font-size:3.70px;font-family:'Liberation Sans',sans-serif;color:#8a8a8a;">Institute for Infocomm Research,</div>
<div class="t" style="left:904.30px;top:181.60px;font-size:3.70px;font-family:'Liberation Sans',sans-serif;color:#8a8a8a;">A*STAR</div>
<div class="t" style="left:962.70px;top:179.01px;font-size:3.70px;font-family:'Liberation Sans',sans-serif;color:#8a8a8a;">4</div>
<div class="t" style="left:977.30px;top:179.01px;font-size:3.70px;font-family:'Liberation Sans',sans-serif;color:#8a8a8a;">0.8556</div>
<div class="t" style="left:866.50px;top:191.60px;font-size:3.70px;font-family:'Liberation Sans',sans-serif;color:#8a8a8a;">3</div>
<div class="t" style="left:876.20px;top:189.01px;font-size:3.70px;font-family:'Liberation Sans',sans-serif;color:#8a8a8a;">Mohammad</div>
<div class="t" style="left:876.20px;top:194.20px;font-size:3.70px;font-family:'Liberation Sans',sans-serif;color:#8a8a8a;">Soltani</div>
<div class="t" style="left:904.30px;top:191.60px;font-size:3.70px;font-family:'Liberation Sans',sans-serif;color:#8a8a8a;">Heinrich Heine University</div>
<div class="t" style="left:962.70px;top:191.60px;font-size:3.70px;font-family:'Liberation Sans',sans-serif;color:#8a8a8a;">2</div>
<div class="t" style="left:977.30px;top:191.60px;font-size:3.70px;font-family:'Liberation Sans',sans-serif;color:#8a8a8a;">0.8273</div>
<div class="t" style="left:866.50px;top:203.81px;font-size:3.70px;font-family:'Liberation Sans',sans-serif;color:#8a8a8a;">4</div>
<div class="t" style="left:876.20px;top:201.31px;font-size:3.70px;font-family:'Liberation Sans',sans-serif;color:#8a8a8a;">Pitt Pixel</div>
<div class="t" style="left:876.20px;top:206.40px;font-size:3.70px;font-family:'Liberation Sans',sans-serif;color:#8a8a8a;">Persuaders</div>
<div class="t" style="left:904.30px;top:203.81px;font-size:3.70px;font-family:'Liberation Sans',sans-serif;color:#8a8a8a;">University of Pittsburgh</div>
<div class="t" style="left:962.70px;top:203.81px;font-size:3.70px;font-family:'Liberation Sans',sans-serif;color:#8a8a8a;">2</div>
<div class="t" style="left:977.30px;top:203.81px;font-size:3.70px;font-family:'Liberation Sans',sans-serif;color:#8a8a8a;">0.8168</div>
<div class="r" style="left:683.20px;top:285.20px;width:104.80px;height:0.90px;background:#8a8a8a;"></div>
<div class="r" style="left:683.20px;top:298.40px;width:104.80px;height:0.70px;background:#9a9a9a;"></div>
<div class="r" style="left:683.20px;top:316.80px;width:104.80px;height:1.00px;background:#a0a0a0;"></div>
<div class="r" style="left:683.20px;top:340.60px;width:104.80px;height:1.00px;background:#a0a0a0;"></div>
<div class="r" style="left:683.20px;top:364.90px;width:104.80px;height:1.00px;background:#8a8a8a;"></div>
<div class="r" style="left:705.30px;top:285.50px;width:0.60px;height:79.50px;background:#8a8a8a;"></div>
<div class="r" style="left:734.70px;top:285.50px;width:0.60px;height:79.50px;background:#8a8a8a;"></div>
<div class="r" style="left:741.80px;top:285.50px;width:0.60px;height:79.50px;background:#8a8a8a;"></div>
<div class="r" style="left:751.50px;top:285.50px;width:0.60px;height:79.50px;background:#8a8a8a;"></div>
<div class="t" style="left:690.60px;top:289.81px;font-size:4.00px;color:#111;font-weight:bold;">Text</div>
<div class="t" style="left:714.37px;top:289.81px;font-size:4.00px;color:#111;font-weight:bold;">Image</div>
<div class="t" style="left:736.97px;top:289.81px;font-size:4.00px;color:#111;font-weight:bold;">T</div>
<div class="t" style="left:744.70px;top:289.81px;font-size:4.00px;color:#111;font-weight:bold;">W</div>
<div class="t" style="left:767.58px;top:286.60px;font-size:4.00px;color:#111;font-weight:bold;">F1</div>
<div class="t" style="left:755.72px;top:293.21px;font-size:4.00px;color:#111;font-weight:bold;">Gun</div>
<div class="t" style="left:769.72px;top:293.21px;font-size:4.00px;color:#111;font-weight:bold;">Abortion</div>
<div class="t" style="left:693.30px;top:300.31px;font-size:4.00px;color:#111;">–</div>
<div class="t" style="left:711.81px;top:300.31px;font-size:4.00px;color:#111;">ResNet50</div>
<div class="t" style="left:737.30px;top:300.31px;font-size:4.00px;color:#111;">–</div>
<div class="t" style="left:745.70px;top:300.31px;font-size:4.00px;color:#111;">–</div>
<div class="t" style="left:755.00px;top:300.31px;font-size:4.00px;color:#111;">65.00</div>
<div class="t" style="left:773.00px;top:300.31px;font-size:4.00px;color:#111;">35.71</div>
<div class="t" style="left:693.30px;top:305.65px;font-size:4.00px;color:#111;">–</div>
<div class="t" style="left:709.04px;top:305.65px;font-size:4.00px;color:#111;">LayoutLMv3</div>
<div class="t" style="left:737.30px;top:305.65px;font-size:4.00px;color:#111;">–</div>
<div class="t" style="left:745.70px;top:305.65px;font-size:4.00px;color:#111;">–</div>
<div class="t" style="left:755.00px;top:305.65px;font-size:4.00px;color:#111;">56.98</div>
<div class="t" style="left:773.00px;top:305.65px;font-size:4.00px;color:#111;">39.47</div>
<div class="t" style="left:686.23px;top:311.01px;font-size:4.00px;color:#111;">DeBERTa</div>
<div class="t" style="left:718.70px;top:311.01px;font-size:4.00px;color:#111;">–</div>
<div class="t" style="left:737.30px;top:311.01px;font-size:4.00px;color:#111;">–</div>
<div class="t" style="left:745.70px;top:311.01px;font-size:4.00px;color:#111;">–</div>
<div class="t" style="left:755.00px;top:311.01px;font-size:4.00px;color:#111;">86.32</div>
<div class="t" style="left:773.00px;top:311.01px;font-size:4.00px;color:#111;">71.43</div>
<div class="t" style="left:686.23px;top:319.10px;font-size:4.00px;color:#111;">DeBERTa</div>
<div class="t" style="left:711.81px;top:319.10px;font-size:4.00px;color:#111;">ResNet50</div>
<div class="t" style="left:737.30px;top:319.10px;font-size:4.00px;color:#111;">–</div>
<div class="t" style="left:745.70px;top:319.10px;font-size:4.00px;color:#111;">–</div>
<div class="t" style="left:755.00px;top:319.10px;font-size:4.00px;color:#111;">88.04</div>
<div class="t" style="left:773.00px;top:319.10px;font-size:4.00px;color:#111;">70.59</div>
<div class="t" style="left:686.23px;top:324.46px;font-size:4.00px;color:#111;">DeBERTa</div>
<div class="t" style="left:711.81px;top:324.46px;font-size:4.00px;color:#111;">ResNet50</div>
<div class="t" style="left:736.74px;top:324.46px;font-size:4.00px;color:#111;">✓</div>
<div class="t" style="left:745.70px;top:324.46px;font-size:4.00px;color:#111;">–</div>
<div class="t" style="left:755.00px;top:324.46px;font-size:4.00px;color:#111;">88.42</div>
<div class="t" style="left:773.07px;top:324.46px;font-size:4.00px;color:#111;">71.11</div>
<div class="t" style="left:686.23px;top:329.81px;font-size:4.00px;color:#111;">DeBERTa</div>
<div class="t" style="left:711.81px;top:329.81px;font-size:4.00px;color:#111;">ResNet50</div>
<div class="t" style="left:737.30px;top:329.81px;font-size:4.00px;color:#111;">–</div>
<div class="t" style="left:745.14px;top:329.81px;font-size:4.00px;color:#111;">✓</div>
<div class="t" style="left:755.00px;top:329.81px;font-size:4.00px;color:#111;">88.77</div>
<div class="t" style="left:773.00px;top:329.81px;font-size:4.00px;color:#111;">75.61</div>
<div class="t" style="left:686.23px;top:335.15px;font-size:4.00px;color:#111;">DeBERTa</div>
<div class="t" style="left:711.81px;top:335.15px;font-size:4.00px;color:#111;">ResNet50</div>
<div class="t" style="left:736.74px;top:335.15px;font-size:4.00px;color:#111;">✓</div>
<div class="t" style="left:745.14px;top:335.15px;font-size:4.00px;color:#111;">✓</div>
<div class="t" style="left:755.00px;top:335.15px;font-size:4.00px;color:#111;">90.32</div>
<div class="t" style="left:773.00px;top:335.15px;font-size:4.00px;color:#111;">75.95</div>
<div class="t" style="left:686.23px;top:343.01px;font-size:4.00px;color:#111;">DeBERTa</div>
<div class="t" style="left:709.04px;top:343.01px;font-size:4.00px;color:#111;">LayoutLMv3</div>
<div class="t" style="left:737.30px;top:343.01px;font-size:4.00px;color:#111;">–</div>
<div class="t" style="left:745.70px;top:343.01px;font-size:4.00px;color:#111;">–</div>
<div class="t" style="left:755.00px;top:343.01px;font-size:4.00px;color:#111;">89.13</div>
<div class="t" style="left:773.00px;top:343.01px;font-size:4.00px;color:#111;">76.34</div>
<div class="t" style="left:686.23px;top:348.35px;font-size:4.00px;color:#111;">DeBERTa</div>
<div class="t" style="left:709.04px;top:348.35px;font-size:4.00px;color:#111;">LayoutLMv3</div>
<div class="t" style="left:736.74px;top:348.35px;font-size:4.00px;color:#111;">✓</div>
<div class="t" style="left:745.70px;top:348.35px;font-size:4.00px;color:#111;">–</div>
<div class="t" style="left:755.00px;top:348.35px;font-size:4.00px;color:#111;">89.73</div>
<div class="t" style="left:773.00px;top:348.35px;font-size:4.00px;color:#111;">76.92</div>
<div class="t" style="left:686.23px;top:353.71px;font-size:4.00px;color:#111;">DeBERTa</div>
<div class="t" style="left:709.04px;top:353.71px;font-size:4.00px;color:#111;">LayoutLMv3</div>
<div class="t" style="left:737.30px;top:353.71px;font-size:4.00px;color:#111;">–</div>
<div class="t" style="left:745.14px;top:353.71px;font-size:4.00px;color:#111;">✓</div>
<div class="t" style="left:755.00px;top:353.71px;font-size:4.00px;color:#111;">90.22</div>
<div class="t" style="left:773.00px;top:353.71px;font-size:4.00px;color:#111;">77.30</div>
<div class="t" style="left:686.23px;top:359.06px;font-size:4.00px;color:#111;">DeBERTa</div>
<div class="t" style="left:709.04px;top:359.06px;font-size:4.00px;color:#111;">LayoutLMv3</div>
<div class="t" style="left:736.74px;top:359.06px;font-size:4.00px;color:#111;">✓</div>
<div class="t" style="left:745.14px;top:359.06px;font-size:4.00px;color:#111;">✓</div>
<div class="t" style="left:755.00px;top:359.06px;font-size:4.00px;color:#111;">90.81</div>
<div class="t" style="left:773.00px;top:359.06px;font-size:4.00px;color:#111;">80.52</div>
<div class="t" style="left:682.60px;top:371.31px;font-size:4.40px;color:#111;letter-spacing:0.266px;">Table 2: Ablation studies in ImageArg. The first two</div>
<div class="t" style="left:682.60px;top:376.90px;font-size:4.40px;color:#111;letter-spacing:0.262px;">columns illustrate text and image encoders. T and W</div>
<div class="t" style="left:682.60px;top:382.50px;font-size:4.40px;color:#111;letter-spacing:0.135px;">represent back-translation and WordNet. All models use</div>
<div class="t" style="left:682.60px;top:388.00px;font-size:4.40px;color:#bbb;letter-spacing:-0.123px;">the fine-grained method for multimodal fusion.</div>
<svg style="position:absolute;left:864px;top:74px" width="28" height="40" viewBox="0 0 28 40"><path d="M8.9 9.9 A5.0 5.0 0 1 1 18.9 9.9 Z" fill="#a5792a"/><path d="M8.9 9.9 H18.9 A5.0 5.0 0 0 1 8.9 9.9 Z" fill="#cfae74"/><path d="M3.9 14.1 H11.3 L13.9 15.6 L16.5 14.1 H24 V16.7 H16.2 L13.9 18.2 L11.6 16.7 H3.9 Z" fill="#1f3372"/><path d="M4.9 16 V29 Q4.9 32.6 8.8 33.6 L11.6 34.6" fill="none" stroke="#1f3372" stroke-width="1.9"/><path d="M8.2 17 V27.6 Q8.2 29.8 10.6 30.8" fill="none" stroke="#1f3372" stroke-width="1.4"/><path d="M22.9 16 V29 Q22.9 32.6 19 33.6 L16.2 34.6" fill="none" stroke="#1f3372" stroke-width="1.9"/><path d="M19.6 17 V27.6 Q19.6 29.8 17.2 30.8" fill="none" stroke="#1f3372" stroke-width="1.4"/><rect x="12.9" y="17.5" width="2" height="12" fill="#a5792a"/><path d="M13.9 29 L9.2 36.6 H18.6 Z" fill="#fff" stroke="#a5792a" stroke-width="1.4" stroke-linejoin="round"/></svg>
<div class="t" style="left:893.30px;top:79.41px;font-size:9.60px;font-family:'Liberation Sans',sans-serif;color:#2e3f6c;letter-spacing:0.162px;">THE HONG KONG</div>
<div class="t" style="left:893.30px;top:91.51px;font-size:9.60px;font-family:'Liberation Sans',sans-serif;color:#2e3f6c;letter-spacing:-0.410px;">UNIVERSITY OF SCIENCE</div>
<div class="t" style="left:893.30px;top:103.51px;font-size:9.60px;font-family:'Liberation Sans',sans-serif;color:#2e3f6c;letter-spacing:-0.047px;">AND TECHNOLOGY</div>
<div class="r" style="left:15.00px;top:307.30px;width:64.80px;height:36.70px;background:#eef0fa;"></div>
<div class="r" style="left:27.20px;top:311.10px;width:40.90px;height:1.30px;background:#3a3c48;opacity:.6;"></div>
<div class="r" style="left:33.10px;top:314.90px;width:28.20px;height:1.30px;background:#3a3c48;opacity:.6;"></div>
<div class="u" style="left:29.0px;top:319.2px;font-size:9.2px;font-family:'Liberation Sans',sans-serif;font-weight:bold;color:#15151f;transform:scaleX(0.555);transform-origin:0 0;letter-spacing:0.2px">TEXT CHECKS</div>
<div class="u" style="left:33.1px;top:328.4px;font-size:9.2px;font-family:'Liberation Sans',sans-serif;font-weight:bold;color:#15151f;transform:scaleX(0.64);transform-origin:0 0;letter-spacing:0.2px">TO 644-33</div>
<div class="r" style="left:45.00px;top:326.30px;width:21.40px;height:0.80px;background:#e05050;"></div>
<div class="r" style="left:42.00px;top:336.10px;width:20.20px;height:0.80px;background:#e05050;"></div>
<div class="r" style="left:42.00px;top:339.40px;width:10.70px;height:1.00px;background:#555;opacity:.6;"></div>
<div class="r" style="left:28.30px;top:341.50px;width:38.50px;height:0.60px;background:#777;opacity:.6;"></div>
<div class="r" style="left:82.00px;top:307.30px;width:64.30px;height:36.70px;background:#f4f4f4;"></div>
<svg style="position:absolute;left:82px;top:307.3px" width="64.3" height="36.7" viewBox="0 0 64.3 36.7"><path d="M3.2 36.7 Q2.6 24 8 21 Q12 19 16.7 19.5 Q21.5 19 25.5 21 Q30.5 24 29.5 36.7 Z" fill="#ececec"/><path d="M0.2 36.7 Q0.4 30 3.6 27.5 Q5.5 30 6.6 36.7 Z" fill="#5e3c2e"/><path d="M32 36.7 Q31.8 30 28.8 27.5 Q26.8 30 25.8 36.7 Z" fill="#5e3c2e"/><ellipse cx="16.7" cy="7.2" rx="10.4" ry="7.2" fill="#2b1e18"/><ellipse cx="16.7" cy="12.6" rx="7.7" ry="8.7" fill="#6e4838"/><ellipse cx="16.7" cy="18" rx="5" ry="3" fill="#74503f"/><text x="28.8" y="15.6" font-size="5" fill="#444" style="font-family:'Liberation Serif',serif" textLength="18" lengthAdjust="spacingAndGlyphs">I deserve</text><text x="29.8" y="22.3" font-size="8.4" fill="#222" style="font-family:'Liberation Serif',serif" textLength="32.3" lengthAdjust="spacingAndGlyphs">to be loved.</text><rect x="56" y="32" width="7" height="2.5" fill="#999" opacity=".6"/></svg>
</body></html>
